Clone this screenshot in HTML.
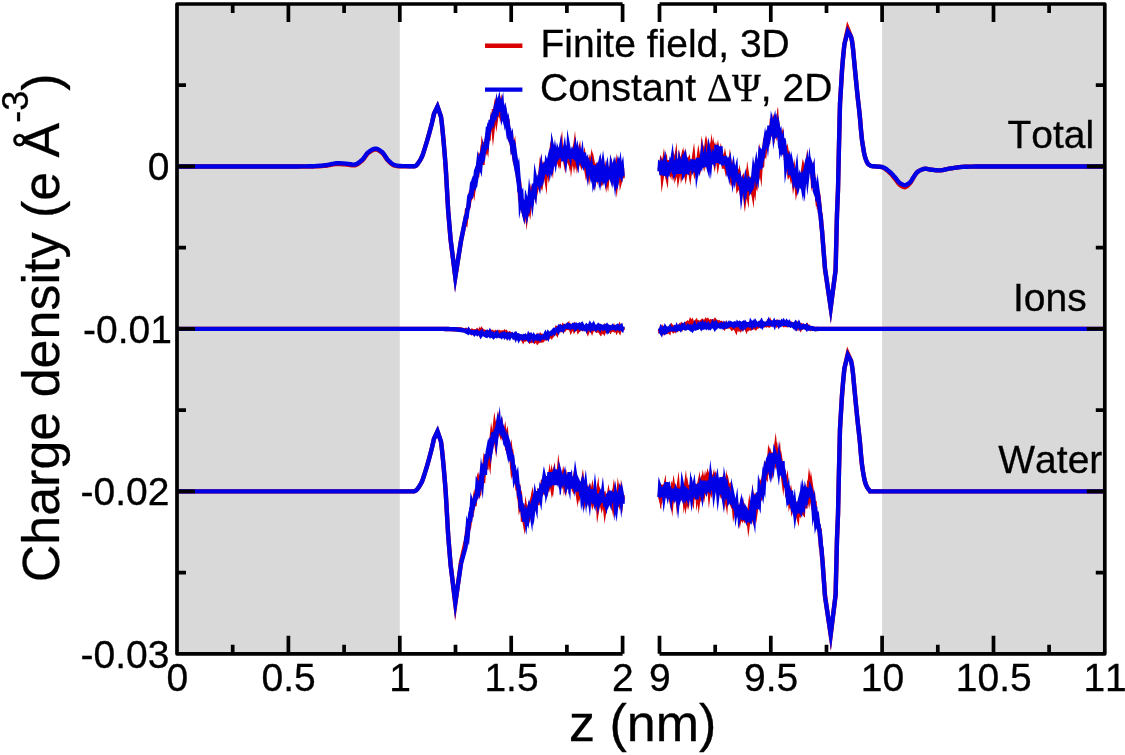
<!DOCTYPE html>
<html><head><meta charset="utf-8"><style>
html,body{margin:0;padding:0;background:#fff;width:1125px;height:755px;overflow:hidden;}
svg{display:block;}
text{font-family:"Liberation Sans",Arial,sans-serif;fill:#000;font-kerning:none;stroke:#000;stroke-width:0.3px;}
</style></head><body>
<svg width="1125" height="755" viewBox="0 0 1125 755">
<rect x="0" y="0" width="1125" height="755" fill="#fff"/>
<rect x="177.0" y="4.0" width="222.8" height="649.8" fill="#d9d9d9"/>
<rect x="882.1" y="4.0" width="222.7" height="649.8" fill="#d9d9d9"/>
<g fill="none" stroke-width="4.4" stroke-linejoin="miter" stroke-miterlimit="10" stroke-linecap="butt">
<path d="M177.0 166.5L178.0 166.5L179.0 166.5L180.0 166.5L181.0 166.5L182.0 166.5L183.0 166.5L184.0 166.5L185.0 166.5L186.0 166.5L187.0 166.5L188.0 166.5L189.0 166.5L190.0 166.5L191.0 166.5L192.0 166.5L193.0 166.5L194.0 166.5L195.0 166.5L196.0 166.5L197.0 166.5L198.0 166.5L199.0 166.5L200.0 166.5L201.0 166.5L202.0 166.5L203.0 166.5L204.0 166.5L205.0 166.5L206.0 166.5L207.0 166.5L208.0 166.5L209.0 166.5L210.0 166.5L211.0 166.5L212.0 166.5L213.0 166.5L214.0 166.5L215.0 166.5L216.0 166.5L217.0 166.5L218.0 166.5L219.0 166.5L220.0 166.5L221.0 166.5L222.0 166.5L223.0 166.5L224.0 166.5L225.0 166.5L226.0 166.5L227.0 166.5L228.0 166.5L229.0 166.5L230.0 166.5L231.0 166.5L232.0 166.5L233.0 166.5L234.0 166.5L235.0 166.5L236.0 166.5L237.0 166.5L238.0 166.5L239.0 166.5L240.0 166.5L241.0 166.5L242.0 166.5L243.0 166.5L244.0 166.5L245.0 166.5L246.0 166.5L247.0 166.5L248.0 166.5L249.0 166.5L250.0 166.5L251.0 166.5L252.0 166.5L253.0 166.5L254.0 166.5L255.0 166.5L256.0 166.5L257.0 166.5L258.0 166.5L259.0 166.5L260.0 166.5L261.0 166.5L262.0 166.5L263.0 166.5L264.0 166.5L265.0 166.5L266.0 166.5L267.0 166.5L268.0 166.5L269.0 166.5L270.0 166.5L271.0 166.5L272.0 166.5L273.0 166.5L274.0 166.5L275.0 166.5L276.0 166.5L277.0 166.5L278.0 166.5L279.0 166.5L280.0 166.5L281.0 166.5L282.0 166.5L283.0 166.5L284.0 166.5L285.0 166.5L286.0 166.5L287.0 166.5L288.0 166.5L289.0 166.5L290.0 166.5L291.0 166.5L292.0 166.5L293.0 166.5L294.0 166.5L295.0 166.5L296.0 166.5L297.0 166.5L298.0 166.5L299.0 166.5L300.0 166.4L301.0 166.5L302.0 166.5L303.0 166.5L304.0 166.5L305.0 166.5L306.0 166.5L307.0 166.5L308.0 166.5L309.0 166.5L310.0 166.5L311.0 166.5L312.0 166.5L313.0 166.5L314.0 166.4L315.0 166.4L316.0 166.4L317.0 166.3L318.0 166.3L319.0 166.2L320.0 166.2L321.0 166.1L322.0 166.0L323.0 165.9L324.0 165.9L325.0 165.8L326.0 165.7L327.0 165.6L328.0 165.4L329.0 165.2L330.0 165.0L331.0 164.8L332.0 164.6L333.0 164.4L334.0 164.3L335.0 164.1L336.0 164.0L337.0 164.0L338.0 164.0L339.0 164.0L340.0 164.0L341.0 164.1L342.0 164.2L343.0 164.2L344.0 164.3L345.0 164.4L346.0 164.5L347.0 164.6L348.0 164.7L349.0 164.8L350.0 165.0L351.0 165.1L352.0 165.3L353.0 165.4L354.0 165.4L355.0 165.3L356.0 165.0L357.0 164.5L358.0 163.9L359.0 163.2L360.0 162.4L361.0 161.6L362.0 160.8L363.0 159.8L364.0 158.5L365.0 157.0L366.0 155.6L367.0 154.3L368.0 153.3L369.0 152.6L370.0 151.8L371.0 151.1L372.0 150.5L373.0 150.0L374.0 149.6L375.0 149.4L376.0 149.4L377.0 149.7L378.0 150.1L379.0 150.6L380.0 151.3L381.0 152.0L382.0 152.8L383.0 153.7L384.0 155.0L385.0 156.5L386.0 158.1L387.0 159.5L388.0 160.6L389.0 161.6L390.0 162.6L391.0 163.5L392.0 164.3L393.0 164.9L394.0 165.3L395.0 165.6L396.0 165.9L397.0 166.1L398.0 166.2L399.0 166.4L400.0 166.4L401.0 166.4L402.0 166.4L403.0 166.4L404.0 166.4L405.0 166.4L406.0 166.4L407.0 166.4L408.0 166.4L409.0 166.4L410.0 166.4L411.0 166.4L412.0 166.4L413.0 166.3L414.0 166.3L415.0 166.2L416.0 165.7L417.0 164.7L418.0 163.5L419.0 161.9L420.0 160.3L421.0 158.6L422.0 156.6L423.0 153.9L424.0 150.9L425.0 147.7L426.0 144.4L427.0 141.2L428.0 137.7L429.0 134.1L430.0 130.4L431.0 126.6L432.0 122.7L433.0 118.3L434.0 113.8L437.5 106.5L441.0 116.8L442.0 125.0L443.0 135.0L444.0 146.3L445.0 158.1L445.8 169.2L448.2 211.2L450.6 239.9L455.3 276.9L461.0 241.1" stroke="#d80000" stroke-miterlimit="20"/>
<path d="M461.0 241.1L465.6 218.8L466.0 219.7L466.5 215.2L467.0 210.0L467.5 209.4L468.0 208.4L468.5 206.5L469.0 203.1L469.5 200.3L470.0 198.7L470.5 195.0L471.0 195.4L471.5 191.2L472.0 189.5L472.5 188.1L473.0 183.0L473.5 182.0L474.0 185.3L474.5 181.2L475.0 178.4L475.5 178.3L476.0 175.0L476.5 175.2L477.0 171.6L477.5 172.2L478.0 166.5L478.5 171.5L479.0 165.9L479.5 161.9L480.0 163.5L480.5 161.7L481.0 161.4L481.5 156.8L482.0 158.9L482.5 164.9L483.0 151.8L483.5 154.0L484.0 150.8L484.5 150.2L485.0 143.6L485.5 143.2L486.0 145.1L486.5 141.8L487.0 143.8L487.5 136.0L488.0 136.1L488.5 140.7L489.0 129.7L489.5 127.4L490.0 127.7L490.5 125.9L491.0 126.5L491.5 123.2L492.0 119.6L492.5 120.7L493.0 125.5L493.5 120.8L494.0 109.2L494.5 114.6L495.0 111.4L495.5 114.0L496.0 110.7L496.5 115.0L497.0 111.4L497.5 110.4L498.0 107.9L498.5 106.8L499.0 107.4L499.5 109.6L500.0 107.8L500.5 105.9L501.0 110.7L501.5 108.7L502.0 109.1L502.5 108.5L503.0 110.4L503.5 111.6L504.0 107.5L504.5 118.7L505.0 119.0L505.5 118.5L506.0 123.2L506.5 123.2L507.0 124.8L507.5 119.3L508.0 126.9L508.5 130.8L509.0 135.5L509.5 138.2L510.0 139.3L510.5 134.9L511.0 134.5L511.5 143.8L512.0 144.7L512.5 149.5L513.0 149.0L513.5 152.3L514.0 150.2L514.5 157.7L515.0 157.9L515.5 162.5L516.0 165.4L516.5 166.6L517.0 170.6L517.5 172.7L518.0 177.8L518.5 180.4L519.0 181.3L519.5 185.7L520.0 196.4L520.5 196.0L521.0 202.2L521.5 203.2L522.0 203.2L522.5 205.0L523.0 209.2L523.5 211.2L524.0 213.1L524.5 208.6L525.0 210.3L525.5 211.1L526.0 214.8L526.5 203.5L527.0 209.8L527.5 206.1L528.0 207.5L528.5 204.1L529.0 205.3L529.5 207.3L530.0 202.9L530.5 201.8L531.0 200.3L531.5 196.0L532.0 198.1L532.5 194.7L533.0 191.8L533.5 192.6L534.0 190.9L534.5 192.3L535.0 189.1L535.5 186.6L536.0 190.7L536.5 188.3L537.0 187.9L537.5 185.0L538.0 181.9L538.5 180.0L539.0 179.2L539.5 181.4L540.0 178.1L540.5 172.8L541.0 175.6L541.5 170.9L542.0 174.2L542.5 169.5L543.0 168.4L543.5 171.3L544.0 169.9L544.5 164.8L545.0 170.5L545.5 173.6L546.0 162.8L546.5 171.0L547.0 163.3L547.5 163.0L548.0 163.1L548.5 158.8L549.0 165.6L549.5 162.6L550.0 158.5L550.5 159.1L551.0 155.0L551.5 157.6L552.0 160.5L552.5 152.7L553.0 155.7L553.5 156.9L554.0 159.0L554.5 159.5L555.0 154.2L555.5 153.2L556.0 156.3L556.5 153.8L557.0 153.8L557.5 157.5L558.0 159.0L558.5 154.8L559.0 153.4L559.5 155.3L560.0 148.3L560.5 153.4L561.0 150.4L561.5 160.0L562.0 155.3L562.5 153.6L563.0 152.6L563.5 146.1L564.0 155.1L564.5 157.7L565.0 151.1L565.5 155.1L566.0 155.2L566.5 148.9L567.0 155.9L567.5 157.2L568.0 154.1L568.5 153.4L569.0 155.9L569.5 149.5L570.0 154.3L570.5 157.1L571.0 150.9L571.5 157.3L572.0 153.6L572.5 149.1L573.0 154.8L573.5 152.6L574.0 156.5L574.5 152.5L575.0 159.0L575.5 154.2L576.0 157.5L576.5 155.1L577.0 156.1L577.5 160.5L578.0 158.1L578.5 156.6L579.0 154.5L579.5 161.6L580.0 160.8L580.5 158.3L581.0 160.3L581.5 157.3L582.0 157.8L582.5 158.9L583.0 162.7L583.5 163.1L584.0 160.7L584.5 165.5L585.0 166.2L585.5 165.0L586.0 168.0L586.5 164.8L587.0 165.8L587.5 168.0L588.0 167.0L588.5 169.8L589.0 164.5L589.5 172.4L590.0 166.6L590.5 168.6L591.0 165.6L591.5 171.5L592.0 173.7L592.5 173.5L593.0 173.2L593.5 166.8L594.0 169.3L594.5 170.6L595.0 169.6L595.5 175.6L596.0 173.3L596.5 172.9L597.0 174.6L597.5 170.8L598.0 171.1L598.5 171.3L599.0 175.3L599.5 174.9L600.0 175.6L600.5 177.0L601.0 170.2L601.5 172.4L602.0 174.3L602.5 170.1L603.0 172.3L603.5 176.6L604.0 176.7L604.5 176.6L605.0 173.6L605.5 172.8L606.0 176.4L606.5 172.2L607.0 174.2L607.5 176.9L608.0 172.1L608.5 171.3L609.0 173.0L609.5 174.7L610.0 174.4L610.5 173.4L611.0 174.6L611.5 168.5L612.0 170.6L612.5 173.5L613.0 170.4L613.5 169.3L614.0 169.7L614.5 170.5L615.0 172.6L615.5 170.3L616.0 173.9L616.5 178.0L617.0 172.9L617.5 176.9L618.0 174.2L618.5 170.3L619.0 172.8L619.5 170.8L620.0 175.8L620.5 170.4L621.0 177.4L621.5 175.4L622.0 168.2L622.5 176.2L622.6 178.4" stroke="#d80000"/>
<path d="M177.0 328.9L178.0 328.9L179.0 328.9L180.0 328.9L181.0 328.9L182.0 328.9L183.0 328.9L184.0 328.9L185.0 328.9L186.0 328.9L187.0 328.9L188.0 328.9L189.0 328.9L190.0 328.9L191.0 328.9L192.0 328.9L193.0 328.9L194.0 328.9L195.0 328.9L196.0 328.9L197.0 328.9L198.0 328.9L199.0 328.9L200.0 328.9L201.0 328.9L202.0 328.9L203.0 328.9L204.0 328.9L205.0 328.9L206.0 328.9L207.0 328.9L208.0 328.9L209.0 328.9L210.0 328.9L211.0 328.9L212.0 328.9L213.0 328.9L214.0 328.9L215.0 328.9L216.0 328.9L217.0 328.9L218.0 328.9L219.0 328.9L220.0 328.9L221.0 328.9L222.0 328.9L223.0 328.9L224.0 328.9L225.0 328.9L226.0 328.9L227.0 328.9L228.0 328.9L229.0 328.9L230.0 328.9L231.0 328.9L232.0 328.9L233.0 328.9L234.0 328.9L235.0 328.9L236.0 328.9L237.0 328.9L238.0 328.9L239.0 328.9L240.0 328.9L241.0 328.9L242.0 328.9L243.0 328.9L244.0 328.9L245.0 328.9L246.0 328.9L247.0 328.9L248.0 328.9L249.0 328.9L250.0 328.9L251.0 328.9L252.0 328.9L253.0 328.9L254.0 328.9L255.0 328.9L256.0 328.9L257.0 328.9L258.0 328.9L259.0 328.9L260.0 328.9L261.0 328.9L262.0 328.9L263.0 328.9L264.0 328.9L265.0 328.9L266.0 328.9L267.0 328.9L268.0 328.9L269.0 328.9L270.0 328.9L271.0 328.9L272.0 328.9L273.0 328.9L274.0 328.9L275.0 328.9L276.0 328.9L277.0 328.9L278.0 328.9L279.0 328.9L280.0 328.9L281.0 328.9L282.0 328.9L283.0 328.9L284.0 328.9L285.0 328.9L286.0 328.9L287.0 328.9L288.0 328.9L289.0 328.9L290.0 328.9L291.0 328.9L292.0 328.9L293.0 328.9L294.0 328.9L295.0 328.9L296.0 328.9L297.0 328.9L298.0 328.9L299.0 328.9L300.0 328.9L301.0 328.9L302.0 328.9L303.0 328.9L304.0 328.9L305.0 328.9L306.0 328.9L307.0 328.9L308.0 328.9L309.0 328.9L310.0 328.9L311.0 328.9L312.0 328.9L313.0 328.9L314.0 328.9L315.0 328.9L316.0 328.9L317.0 328.9L318.0 328.9L319.0 328.9L320.0 328.9L321.0 328.9L322.0 328.9L323.0 328.9L324.0 328.9L325.0 328.9L326.0 328.9L327.0 328.9L328.0 328.9L329.0 328.9L330.0 328.9L331.0 328.9L332.0 328.9L333.0 328.9L334.0 328.9L335.0 328.9L336.0 328.9L337.0 328.9L338.0 328.9L339.0 328.9L340.0 328.9L341.0 328.9L342.0 328.9L343.0 328.9L344.0 328.9L345.0 328.9L346.0 328.9L347.0 328.9L348.0 328.9L349.0 328.9L350.0 328.9L351.0 328.9L352.0 328.9L353.0 328.9L354.0 328.9L355.0 328.9L356.0 328.9L357.0 328.9L358.0 328.9L359.0 328.9L360.0 328.9L361.0 328.9L362.0 328.9L363.0 328.9L364.0 328.9L365.0 328.9L366.0 328.9L367.0 328.9L368.0 328.9L369.0 328.9L370.0 328.9L371.0 328.9L372.0 328.9L373.0 328.9L374.0 328.9L375.0 328.9L376.0 328.9L377.0 328.9L378.0 328.9L379.0 328.9L380.0 328.9L381.0 328.9L382.0 328.9L383.0 328.9L384.0 328.9L385.0 328.9L386.0 328.9L387.0 328.9L388.0 328.9L389.0 328.9L390.0 328.9L391.0 328.9L392.0 328.9L393.0 328.9L394.0 328.9L395.0 328.9L396.0 328.9L397.0 328.9L398.0 328.9L399.0 328.9L400.0 328.9L401.0 328.9L402.0 328.9L403.0 328.9L404.0 328.9L405.0 328.9L406.0 328.9L407.0 328.9L408.0 328.9L409.0 328.9L410.0 328.9L411.0 328.9L412.0 328.9L413.0 328.9L414.0 328.9L415.0 328.9L416.0 328.9L417.0 328.9L418.0 328.9L419.0 328.9L420.0 328.9L421.0 328.9L422.0 328.9L423.0 328.9L424.0 328.9L425.0 328.9L426.0 328.9L427.0 328.9L428.0 328.9L429.0 328.9L430.0 328.9L431.0 328.9L432.0 328.9L433.0 328.9L434.0 328.9L437.5 328.9L441.0 328.9L442.0 328.9L443.0 328.9L444.0 328.9L445.0 329.0L445.8 329.0L448.2 329.0L450.6 329.1L455.3 329.3L461.0 329.5L465.6 330.8L466.0 330.4L466.5 330.9L467.0 330.7L467.5 330.9L468.0 331.1L468.5 331.1L469.0 330.9L469.5 331.6L470.0 331.4L470.5 331.4L471.0 331.7L471.5 331.3L472.0 332.2L472.5 331.7L473.0 331.8L473.5 331.9L474.0 331.4L474.5 331.3L475.0 331.9L475.5 332.0L476.0 332.4L476.5 332.1L477.0 331.4L477.5 332.2L478.0 332.4L478.5 332.5L479.0 332.2L479.5 331.4L480.0 332.6L480.5 331.7L481.0 332.4L481.5 331.4L482.0 332.6L482.5 331.9L483.0 332.9L483.5 333.3L484.0 333.0L484.5 331.8L485.0 332.0L485.5 332.0L486.0 332.9L486.5 332.7L487.0 332.7L487.5 332.8L488.0 332.9L488.5 333.0L489.0 333.6L489.5 332.7L490.0 332.9L490.5 331.8L491.0 332.1L491.5 332.4L492.0 332.2L492.5 333.0L493.0 333.4L493.5 332.6L494.0 332.6L494.5 332.6L495.0 333.0L495.5 332.6L496.0 333.2L496.5 333.1L497.0 333.2L497.5 333.4L498.0 333.0L498.5 333.1L499.0 334.0L499.5 333.0L500.0 333.5L500.5 333.1L501.0 332.8L501.5 332.8L502.0 332.6L502.5 333.1L503.0 332.7L503.5 332.8L504.0 333.8L504.5 333.0L505.0 333.8L505.5 333.4L506.0 333.9L506.5 333.1L507.0 333.7L507.5 335.3L508.0 334.4L508.5 334.6L509.0 334.3L509.5 334.8L510.0 333.8L510.5 334.1L511.0 335.0L511.5 335.4L512.0 334.9L512.5 335.2L513.0 335.2L513.5 335.5L514.0 335.1L514.5 335.1L515.0 336.1L515.5 335.2L516.0 335.8L516.5 336.2L517.0 336.1L517.5 337.0L518.0 336.7L518.5 337.1L519.0 336.6L519.5 336.9L520.0 337.8L520.5 337.9L521.0 337.5L521.5 338.1L522.0 338.1L522.5 338.2L523.0 339.2L523.5 338.0L524.0 338.6L524.5 338.7L525.0 338.4L525.5 337.8L526.0 339.1L526.5 338.9L527.0 338.8L527.5 338.9L528.0 338.9L528.5 338.4L529.0 339.2L529.5 337.9L530.0 339.1L530.5 338.2L531.0 339.0L531.5 339.7L532.0 339.0L532.5 338.9L533.0 339.6L533.5 339.1L534.0 339.0L534.5 339.0L535.0 340.3L535.5 339.7L536.0 339.6L536.5 338.5L537.0 339.7L537.5 338.4L538.0 339.6L538.5 338.6L539.0 340.7L539.5 338.2L540.0 340.2L540.5 339.9L541.0 338.1L541.5 339.2L542.0 340.3L542.5 340.1L543.0 338.1L543.5 338.8L544.0 338.2L544.5 338.2L545.0 338.2L545.5 339.7L546.0 338.2L546.5 337.6L547.0 337.2L547.5 337.5L548.0 337.2L548.5 335.7L549.0 337.1L549.5 334.9L550.0 335.2L550.5 335.4L551.0 335.9L551.5 334.2L552.0 334.2L552.5 334.6L553.0 333.7L553.5 333.7L554.0 333.3L554.5 332.4L555.0 332.3L555.5 332.1L556.0 331.1L556.5 331.9L557.0 329.0L557.5 329.4L558.0 330.8L558.5 329.8L559.0 328.7L559.5 329.2L560.0 329.4L560.5 328.1L561.0 328.9L561.5 328.1L562.0 328.0L562.5 327.8L563.0 328.6L563.5 326.8L564.0 327.3L564.5 327.9L565.0 326.5L565.5 326.2L566.0 327.7L566.5 327.3L567.0 327.2L567.5 327.5L568.0 326.7L568.5 329.7L569.0 326.8L569.5 327.3L570.0 326.6L570.5 327.4L571.0 329.0L571.5 327.9L572.0 328.4L572.5 327.7L573.0 329.5L573.5 328.3L574.0 327.3L574.5 328.9L575.0 328.1L575.5 328.9L576.0 328.6L576.5 328.7L577.0 328.6L577.5 327.8L578.0 327.4L578.5 329.3L579.0 328.5L579.5 328.9L580.0 328.3L580.5 327.1L581.0 327.7L581.5 329.8L582.0 328.2L582.5 328.5L583.0 327.7L583.5 328.4L584.0 328.6L584.5 328.7L585.0 328.8L585.5 328.4L586.0 328.5L586.5 328.9L587.0 329.2L587.5 328.9L588.0 330.4L588.5 329.2L589.0 329.2L589.5 328.6L590.0 329.9L590.5 328.3L591.0 327.9L591.5 328.4L592.0 329.7L592.5 328.3L593.0 330.3L593.5 329.2L594.0 328.1L594.5 329.1L595.0 330.7L595.5 328.7L596.0 328.3L596.5 329.8L597.0 330.4L597.5 330.2L598.0 329.1L598.5 329.6L599.0 329.7L599.5 330.4L600.0 331.2L600.5 329.4L601.0 330.5L601.5 329.2L602.0 329.9L602.5 328.7L603.0 328.8L603.5 329.8L604.0 328.7L604.5 330.2L605.0 329.0L605.5 329.5L606.0 329.4L606.5 329.2L607.0 329.5L607.5 330.3L608.0 332.0L608.5 328.5L609.0 329.7L609.5 329.3L610.0 328.7L610.5 329.7L611.0 328.7L611.5 329.3L612.0 330.4L612.5 327.7L613.0 329.6L613.5 329.8L614.0 328.6L614.5 329.8L615.0 329.7L615.5 329.1L616.0 330.4L616.5 328.2L617.0 329.9L617.5 329.1L618.0 328.4L618.5 329.1L619.0 329.0L619.5 329.9L620.0 328.0L620.5 329.1L621.0 328.8L621.5 330.5L622.0 328.2L622.5 330.0L622.6 327.6" stroke="#d80000" stroke-miterlimit="3"/>
<path d="M177.0 491.4L178.0 491.4L179.0 491.4L180.0 491.4L181.0 491.4L182.0 491.4L183.0 491.4L184.0 491.4L185.0 491.4L186.0 491.4L187.0 491.4L188.0 491.4L189.0 491.4L190.0 491.4L191.0 491.4L192.0 491.4L193.0 491.4L194.0 491.4L195.0 491.4L196.0 491.4L197.0 491.4L198.0 491.4L199.0 491.4L200.0 491.4L201.0 491.4L202.0 491.4L203.0 491.4L204.0 491.4L205.0 491.4L206.0 491.4L207.0 491.4L208.0 491.4L209.0 491.4L210.0 491.4L211.0 491.4L212.0 491.4L213.0 491.4L214.0 491.4L215.0 491.4L216.0 491.4L217.0 491.4L218.0 491.4L219.0 491.4L220.0 491.4L221.0 491.4L222.0 491.4L223.0 491.4L224.0 491.4L225.0 491.4L226.0 491.4L227.0 491.4L228.0 491.4L229.0 491.4L230.0 491.4L231.0 491.4L232.0 491.4L233.0 491.4L234.0 491.4L235.0 491.4L236.0 491.4L237.0 491.4L238.0 491.4L239.0 491.4L240.0 491.4L241.0 491.4L242.0 491.4L243.0 491.4L244.0 491.4L245.0 491.4L246.0 491.4L247.0 491.4L248.0 491.4L249.0 491.4L250.0 491.4L251.0 491.4L252.0 491.4L253.0 491.4L254.0 491.4L255.0 491.4L256.0 491.4L257.0 491.4L258.0 491.4L259.0 491.4L260.0 491.4L261.0 491.4L262.0 491.4L263.0 491.4L264.0 491.4L265.0 491.4L266.0 491.4L267.0 491.4L268.0 491.4L269.0 491.4L270.0 491.4L271.0 491.4L272.0 491.4L273.0 491.4L274.0 491.4L275.0 491.4L276.0 491.4L277.0 491.4L278.0 491.4L279.0 491.4L280.0 491.4L281.0 491.4L282.0 491.4L283.0 491.4L284.0 491.4L285.0 491.4L286.0 491.4L287.0 491.4L288.0 491.4L289.0 491.4L290.0 491.4L291.0 491.4L292.0 491.4L293.0 491.4L294.0 491.4L295.0 491.4L296.0 491.4L297.0 491.4L298.0 491.4L299.0 491.4L300.0 491.4L301.0 491.4L302.0 491.4L303.0 491.4L304.0 491.4L305.0 491.4L306.0 491.4L307.0 491.4L308.0 491.4L309.0 491.4L310.0 491.4L311.0 491.4L312.0 491.4L313.0 491.4L314.0 491.4L315.0 491.4L316.0 491.4L317.0 491.4L318.0 491.4L319.0 491.4L320.0 491.4L321.0 491.4L322.0 491.4L323.0 491.4L324.0 491.4L325.0 491.4L326.0 491.4L327.0 491.4L328.0 491.4L329.0 491.4L330.0 491.4L331.0 491.4L332.0 491.4L333.0 491.4L334.0 491.4L335.0 491.4L336.0 491.4L337.0 491.4L338.0 491.4L339.0 491.4L340.0 491.4L341.0 491.4L342.0 491.4L343.0 491.4L344.0 491.4L345.0 491.4L346.0 491.4L347.0 491.4L348.0 491.4L349.0 491.4L350.0 491.4L351.0 491.4L352.0 491.4L353.0 491.4L354.0 491.4L355.0 491.4L356.0 491.4L357.0 491.4L358.0 491.4L359.0 491.4L360.0 491.4L361.0 491.4L362.0 491.4L363.0 491.4L364.0 491.4L365.0 491.4L366.0 491.4L367.0 491.4L368.0 491.4L369.0 491.4L370.0 491.4L371.0 491.4L372.0 491.4L373.0 491.4L374.0 491.4L375.0 491.4L376.0 491.4L377.0 491.4L378.0 491.4L379.0 491.4L380.0 491.4L381.0 491.4L382.0 491.4L383.0 491.4L384.0 491.4L385.0 491.4L386.0 491.4L387.0 491.4L388.0 491.4L389.0 491.4L390.0 491.4L391.0 491.4L392.0 491.4L393.0 491.4L394.0 491.4L395.0 491.4L396.0 491.4L397.0 491.4L398.0 491.4L399.0 491.4L400.0 491.4L401.0 491.4L402.0 491.4L403.0 491.4L404.0 491.4L405.0 491.4L406.0 491.4L407.0 491.4L408.0 491.4L409.0 491.4L410.0 491.4L411.0 491.4L412.0 491.4L413.0 491.4L414.0 491.4L415.0 491.0L416.0 490.5L417.0 489.6L418.0 488.3L419.0 486.8L420.0 485.2L421.0 483.5L422.0 481.5L423.0 478.8L424.0 475.8L425.0 472.6L426.0 469.3L427.0 466.1L428.0 462.6L429.0 459.0L430.0 455.3L431.0 451.5L432.0 447.6L433.0 443.2L434.0 438.7L437.5 431.4L441.0 441.7L442.0 449.8L443.0 459.9L444.0 471.1L445.0 482.9L445.8 494.1L448.2 535.9L450.6 564.6L455.3 603.7L461.0 562.1" stroke="#d80000" stroke-miterlimit="20"/>
<path d="M461.0 562.1L465.6 541.9L466.0 541.4L466.5 537.0L467.0 537.7L467.5 530.4L468.0 530.7L468.5 528.5L469.0 527.5L469.5 523.9L470.0 520.0L470.5 517.2L471.0 514.5L471.5 514.6L472.0 508.9L472.5 509.3L473.0 506.2L473.5 505.2L474.0 502.4L474.5 506.1L475.0 498.4L475.5 498.9L476.0 497.5L476.5 496.7L477.0 494.8L477.5 493.1L478.0 492.8L478.5 485.6L479.0 487.5L479.5 483.1L480.0 484.9L480.5 480.1L481.0 479.0L481.5 479.5L482.0 481.3L482.5 477.8L483.0 475.5L483.5 476.4L484.0 469.2L484.5 464.7L485.0 466.7L485.5 465.1L486.0 466.7L486.5 466.9L487.0 456.4L487.5 463.6L488.0 459.3L488.5 455.5L489.0 452.4L489.5 455.6L490.0 448.0L490.5 445.0L491.0 445.0L491.5 439.9L492.0 443.3L492.5 440.7L493.0 440.7L493.5 439.6L494.0 434.9L494.5 439.8L495.0 432.9L495.5 436.6L496.0 429.3L496.5 433.4L497.0 429.5L497.5 431.0L498.0 428.6L498.5 424.2L499.0 426.6L499.5 429.4L500.0 430.9L500.5 425.9L501.0 424.7L501.5 428.6L502.0 431.1L502.5 431.0L503.0 431.7L503.5 437.0L504.0 438.5L504.5 439.1L505.0 436.0L505.5 439.8L506.0 440.3L506.5 438.5L507.0 445.9L507.5 445.4L508.0 445.5L508.5 452.1L509.0 452.2L509.5 454.3L510.0 457.1L510.5 457.8L511.0 454.7L511.5 459.0L512.0 464.6L512.5 462.1L513.0 466.2L513.5 469.1L514.0 473.8L514.5 475.5L515.0 476.5L515.5 475.8L516.0 480.8L516.5 482.1L517.0 482.6L517.5 489.0L518.0 489.3L518.5 488.8L519.0 497.0L519.5 497.0L520.0 503.4L520.5 501.7L521.0 508.4L521.5 508.1L522.0 510.0L522.5 509.5L523.0 521.7L523.5 517.1L524.0 518.9L524.5 521.5L525.0 518.1L525.5 519.3L526.0 513.8L526.5 517.1L527.0 514.7L527.5 516.3L528.0 514.7L528.5 509.9L529.0 508.1L529.5 509.6L530.0 513.5L530.5 511.9L531.0 511.0L531.5 503.7L532.0 501.1L532.5 505.7L533.0 505.6L533.5 504.1L534.0 505.9L534.5 503.7L535.0 500.2L535.5 500.2L536.0 502.1L536.5 501.0L537.0 499.7L537.5 505.0L538.0 497.3L538.5 497.4L539.0 493.4L539.5 494.1L540.0 495.5L540.5 494.7L541.0 491.8L541.5 492.3L542.0 490.5L542.5 484.4L543.0 479.8L543.5 494.2L544.0 489.5L544.5 486.4L545.0 481.3L545.5 482.0L546.0 488.6L546.5 476.7L547.0 482.9L547.5 485.6L548.0 483.1L548.5 484.3L549.0 481.3L549.5 487.8L550.0 477.9L550.5 476.5L551.0 480.6L551.5 483.5L552.0 479.1L552.5 481.9L553.0 477.3L553.5 475.4L554.0 482.5L554.5 482.9L555.0 482.9L555.5 477.5L556.0 475.6L556.5 475.6L557.0 478.3L557.5 480.6L558.0 480.5L558.5 475.1L559.0 479.6L559.5 479.2L560.0 479.4L560.5 479.2L561.0 478.8L561.5 481.2L562.0 480.0L562.5 480.5L563.0 478.0L563.5 481.2L564.0 479.9L564.5 474.4L565.0 481.9L565.5 479.9L566.0 483.3L566.5 480.4L567.0 480.6L567.5 481.6L568.0 481.1L568.5 479.9L569.0 476.3L569.5 486.6L570.0 477.2L570.5 480.8L571.0 483.7L571.5 483.1L572.0 483.8L572.5 484.6L573.0 486.1L573.5 483.6L574.0 491.1L574.5 480.3L575.0 484.0L575.5 482.6L576.0 482.3L576.5 484.8L577.0 488.3L577.5 482.4L578.0 482.7L578.5 486.9L579.0 486.7L579.5 491.0L580.0 488.8L580.5 486.9L581.0 485.8L581.5 487.8L582.0 487.2L582.5 484.3L583.0 488.7L583.5 488.7L584.0 489.1L584.5 489.1L585.0 495.6L585.5 493.3L586.0 494.5L586.5 490.7L587.0 490.0L587.5 492.6L588.0 494.5L588.5 493.3L589.0 494.2L589.5 497.7L590.0 496.2L590.5 492.9L591.0 494.8L591.5 494.5L592.0 497.2L592.5 493.7L593.0 496.8L593.5 499.6L594.0 498.1L594.5 495.7L595.0 496.9L595.5 499.2L596.0 500.5L596.5 501.7L597.0 499.2L597.5 496.1L598.0 504.0L598.5 500.9L599.0 501.3L599.5 501.1L600.0 497.4L600.5 499.4L601.0 501.0L601.5 503.1L602.0 500.4L602.5 491.4L603.0 499.4L603.5 501.0L604.0 503.6L604.5 501.9L605.0 506.8L605.5 503.7L606.0 503.4L606.5 502.2L607.0 495.6L607.5 501.8L608.0 501.1L608.5 497.9L609.0 501.0L609.5 500.5L610.0 498.0L610.5 499.0L611.0 498.6L611.5 500.0L612.0 498.2L612.5 500.9L613.0 494.0L613.5 498.6L614.0 494.7L614.5 498.1L615.0 501.0L615.5 499.6L616.0 499.3L616.5 499.8L617.0 504.1L617.5 496.6L618.0 502.3L618.5 495.6L619.0 498.6L619.5 500.5L620.0 497.7L620.5 500.8L621.0 502.3L621.5 497.0L622.0 500.3L622.5 499.5L622.6 495.2" stroke="#d80000"/>
<path d="M659.5 169.8L660.0 168.3L660.5 169.7L661.0 166.4L661.5 162.6L662.0 163.7L662.5 172.1L663.0 168.8L663.5 165.5L664.0 170.6L664.5 165.7L665.0 165.6L665.5 164.1L666.0 171.2L666.5 173.4L667.0 164.7L667.5 168.3L668.0 170.3L668.5 173.7L669.0 160.2L669.5 167.7L670.0 169.2L670.5 162.8L671.0 168.4L671.5 167.7L672.0 169.3L672.5 165.3L673.0 168.3L673.5 165.2L674.0 168.8L674.5 167.5L675.0 165.8L675.5 162.7L676.0 171.8L676.5 170.2L677.0 169.5L677.5 164.9L678.0 165.8L678.5 171.8L679.0 169.0L679.5 164.2L680.0 166.9L680.5 167.1L681.0 166.1L681.5 163.8L682.0 170.3L682.5 168.3L683.0 165.9L683.5 161.8L684.0 164.7L684.5 166.4L685.0 168.9L685.5 165.2L686.0 169.5L686.5 166.6L687.0 163.9L687.5 157.8L688.0 162.5L688.5 161.5L689.0 165.5L689.5 166.8L690.0 169.9L690.5 165.6L691.0 162.1L691.5 172.5L692.0 166.3L692.5 164.5L693.0 164.3L693.5 161.0L694.0 166.7L694.5 165.8L695.0 169.3L695.5 167.6L696.0 166.8L696.5 167.7L697.0 163.0L697.5 162.3L698.0 163.3L698.5 159.5L699.0 162.6L699.5 161.8L700.0 164.6L700.5 162.3L701.0 156.4L701.5 161.9L702.0 165.7L702.5 155.7L703.0 158.6L703.5 160.5L704.0 156.2L704.5 158.1L705.0 159.5L705.5 155.0L706.0 159.5L706.5 159.5L707.0 154.1L707.5 157.6L708.0 160.5L708.5 156.4L709.0 158.0L709.5 158.4L710.0 155.6L710.5 159.0L711.0 157.1L711.5 152.7L712.0 157.1L712.5 158.0L713.0 157.6L713.5 153.1L714.0 156.3L714.5 159.0L715.0 155.5L715.5 158.3L716.0 158.6L716.5 154.6L717.0 156.9L717.5 154.2L718.0 158.6L718.5 155.4L719.0 154.4L719.5 156.4L720.0 156.7L720.5 158.6L721.0 159.3L721.5 154.8L722.0 156.7L722.5 160.2L723.0 161.1L723.5 160.3L724.0 168.6L724.5 164.5L725.0 161.3L725.5 164.3L726.0 166.7L726.5 164.4L727.0 158.5L727.5 164.7L728.0 165.2L728.5 172.2L729.0 160.7L729.5 171.7L730.0 167.1L730.5 171.1L731.0 168.1L731.5 170.3L732.0 174.1L732.5 171.7L733.0 175.5L733.5 172.9L734.0 172.7L734.5 174.1L735.0 174.0L735.5 176.1L736.0 181.5L736.5 174.5L737.0 173.9L737.5 179.9L738.0 186.0L738.5 185.0L739.0 186.7L739.5 187.4L740.0 182.1L740.5 185.4L741.0 177.5L741.5 184.4L742.0 188.7L742.5 182.2L743.0 180.7L743.5 183.0L744.0 187.7L744.5 190.6L745.0 195.0L745.5 191.4L746.0 182.2L746.5 179.6L747.0 187.2L747.5 190.0L748.0 181.6L748.5 184.9L749.0 185.0L749.5 186.4L750.0 185.6L750.5 187.5L751.0 188.7L751.5 184.9L752.0 186.2L752.5 189.0L753.0 178.5L753.5 177.2L754.0 180.8L754.5 183.7L755.0 177.1L755.5 178.8L756.0 173.2L756.5 175.9L757.0 170.0L757.5 172.9L758.0 170.8L758.5 169.5L759.0 171.4L759.5 169.1L760.0 162.5L760.5 165.8L761.0 156.3L761.5 163.3L762.0 167.3L762.5 158.7L763.0 156.8L763.5 153.5L764.0 153.9L764.5 147.8L765.0 149.3L765.5 144.4L766.0 142.1L766.5 142.2L767.0 140.2L767.5 133.6L768.0 144.1L768.5 136.6L769.0 129.4L769.5 136.6L770.0 131.8L770.5 131.2L771.0 131.7L771.5 125.8L772.0 118.7L772.5 126.9L773.0 127.7L773.5 130.0L774.0 124.6L774.5 126.3L775.0 128.7L775.5 127.0L776.0 127.8L776.5 130.0L777.0 126.9L777.5 135.6L778.0 128.8L778.5 132.7L779.0 132.5L779.5 132.4L780.0 137.2L780.5 139.7L781.0 142.0L781.5 140.5L782.0 138.8L782.5 144.4L783.0 139.1L783.5 145.5L784.0 148.9L784.5 151.1L785.0 147.8L785.5 148.7L786.0 160.2L786.5 155.3L787.0 153.4L787.5 156.1L788.0 161.3L788.5 166.2L789.0 164.0L789.5 168.9L790.0 167.2L790.5 169.3L791.0 172.2L791.5 169.4L792.0 172.6L792.5 171.7L793.0 172.3L793.5 177.5L794.0 174.3L794.5 178.2L795.0 176.8L795.5 179.8L796.0 179.3L796.5 184.7L797.0 181.9L797.5 182.0L798.0 186.7L798.5 173.2L799.0 178.5L799.5 173.7L800.0 181.8L800.5 183.0L801.0 183.4L801.5 182.1L802.0 178.6L802.5 185.8L803.0 180.7L803.5 178.0L804.0 174.1L804.5 176.9L805.0 172.8L805.5 171.3L806.0 171.7L806.5 170.6L807.0 166.9L807.5 171.7L808.0 165.0L808.5 164.1L809.0 167.4L809.5 166.5L810.0 166.3L810.5 165.5L811.0 167.9L811.5 168.2L812.0 167.6L812.5 175.8L813.0 173.6L813.5 177.6L814.0 182.2L814.5 183.0L815.0 191.9L815.5 184.5L816.0 188.4L816.5 192.2L817.0 196.7L817.5 195.1L818.0 194.8L818.5 202.2L819.0 201.3L819.5 206.3L820.0 212.2L820.5 213.9L821.0 219.0L821.5 225.8L822.0 230.4L822.5 236.9L825.0 269.0" stroke="#d80000"/>
<path d="M825.0 269.0L830.7 307.8L835.6 270.0L837.0 214.0L838.0 189.7L839.0 144.9L840.0 103.9L841.0 87.3L842.0 70.7L843.0 58.3L844.0 48.1L844.5 43.8L847.8 28.7L851.0 36.6L852.0 41.0L853.0 48.6L854.0 59.4L855.0 70.0L856.0 80.3L857.0 90.5L858.0 99.9L859.0 108.5L860.0 118.2L861.0 130.1L862.0 140.0L863.0 146.7L864.0 152.4L865.0 156.9L866.0 160.0L867.0 162.1L868.0 163.8L869.0 164.8L870.0 165.4L871.0 165.9L872.0 166.1L873.0 166.2L874.0 166.3L875.0 166.4L876.0 166.5L877.0 166.5L878.0 166.6L879.0 166.7L880.0 166.7L881.0 167.0L882.0 167.2L883.0 167.6L884.0 168.1L885.0 168.7L886.0 169.5L887.0 170.3L888.0 171.2L889.0 172.1L890.0 173.0L891.0 174.0L892.0 175.1L893.0 176.3L894.0 177.6L895.0 178.8L896.0 180.1L897.0 181.4L898.0 182.8L899.0 184.0L900.0 184.9L901.0 185.6L902.0 186.2L903.0 186.7L904.0 187.0L905.0 187.2L906.0 186.8L907.0 186.2L908.0 185.3L909.0 184.3L910.0 183.3L911.0 182.0L912.0 180.3L913.0 178.4L914.0 176.7L915.0 175.1L916.0 173.6L917.0 172.4L918.0 171.5L919.0 170.9L920.0 170.4L921.0 169.9L922.0 169.5L923.0 169.2L924.0 168.9L925.0 168.8L926.0 168.8L927.0 168.9L928.0 169.1L929.0 169.3L930.0 169.5L931.0 169.7L932.0 169.8L933.0 169.9L934.0 170.0L935.0 170.1L936.0 170.2L937.0 170.3L938.0 170.4L939.0 170.4L940.0 170.4L941.0 170.3L942.0 170.1L943.0 170.0L944.0 169.8L945.0 169.5L946.0 169.3L947.0 169.1L948.0 168.9L949.0 168.7L950.0 168.5L951.0 168.4L952.0 168.2L953.0 168.1L954.0 167.9L955.0 167.8L956.0 167.6L957.0 167.5L958.0 167.4L959.0 167.2L960.0 167.1L961.0 167.0L962.0 166.9L963.0 166.9L964.0 166.8L965.0 166.7L966.0 166.7L967.0 166.7L968.0 166.7L969.0 166.6L970.0 166.6L971.0 166.6L972.0 166.6L973.0 166.6L974.0 166.5L975.0 166.5L976.0 166.5L977.0 166.5L978.0 166.5L979.0 166.5L980.0 166.5L981.0 166.5L982.0 166.5L983.0 166.5L984.0 166.5L985.0 166.5L986.0 166.5L987.0 166.5L988.0 166.5L989.0 166.5L990.0 166.5L991.0 166.5L992.0 166.5L993.0 166.5L994.0 166.5L995.0 166.5L996.0 166.5L997.0 166.5L998.0 166.5L999.0 166.5L1000.0 166.5L1001.0 166.5L1002.0 166.5L1003.0 166.5L1004.0 166.5L1005.0 166.5L1006.0 166.5L1007.0 166.5L1008.0 166.5L1009.0 166.5L1010.0 166.5L1011.0 166.5L1012.0 166.5L1013.0 166.5L1014.0 166.5L1015.0 166.5L1016.0 166.5L1017.0 166.5L1018.0 166.5L1019.0 166.5L1020.0 166.5L1021.0 166.5L1022.0 166.5L1023.0 166.5L1024.0 166.5L1025.0 166.5L1026.0 166.5L1027.0 166.5L1028.0 166.5L1029.0 166.5L1030.0 166.5L1031.0 166.5L1032.0 166.5L1033.0 166.5L1034.0 166.5L1035.0 166.5L1036.0 166.5L1037.0 166.5L1038.0 166.5L1039.0 166.5L1040.0 166.5L1041.0 166.5L1042.0 166.5L1043.0 166.5L1044.0 166.5L1045.0 166.5L1046.0 166.5L1047.0 166.5L1048.0 166.5L1049.0 166.5L1050.0 166.5L1051.0 166.5L1052.0 166.5L1053.0 166.5L1054.0 166.5L1055.0 166.5L1056.0 166.5L1057.0 166.5L1058.0 166.5L1059.0 166.5L1060.0 166.5L1061.0 166.5L1062.0 166.5L1063.0 166.5L1064.0 166.5L1065.0 166.5L1066.0 166.5L1067.0 166.5L1068.0 166.5L1069.0 166.5L1070.0 166.5L1071.0 166.5L1072.0 166.5L1073.0 166.5L1074.0 166.5L1075.0 166.5L1076.0 166.5L1077.0 166.5L1078.0 166.5L1079.0 166.5L1080.0 166.5L1081.0 166.5L1082.0 166.5L1083.0 166.5L1084.0 166.5L1085.0 166.5L1086.0 166.5L1087.0 166.5L1088.0 166.5L1089.0 166.5L1090.0 166.5L1091.0 166.5L1092.0 166.5L1093.0 166.5L1094.0 166.5L1095.0 166.5L1096.0 166.5L1097.0 166.5L1098.0 166.5L1099.0 166.5L1100.0 166.5L1101.0 166.5L1102.0 166.5L1103.0 166.5L1104.0 166.5L1104.8 166.5" stroke="#d80000" stroke-miterlimit="20"/>
<path d="M659.5 332.2L660.0 331.4L660.5 332.7L661.0 330.7L661.5 331.6L662.0 332.0L662.5 330.2L663.0 331.3L663.5 331.2L664.0 330.3L664.5 330.7L665.0 331.5L665.5 330.8L666.0 330.2L666.5 330.2L667.0 330.6L667.5 331.1L668.0 330.6L668.5 330.5L669.0 331.0L669.5 328.5L670.0 328.5L670.5 327.8L671.0 330.0L671.5 327.6L672.0 329.2L672.5 329.7L673.0 327.9L673.5 328.4L674.0 328.6L674.5 329.2L675.0 327.4L675.5 328.7L676.0 328.8L676.5 328.2L677.0 328.0L677.5 328.6L678.0 327.7L678.5 327.3L679.0 326.9L679.5 327.5L680.0 326.6L680.5 327.2L681.0 326.6L681.5 327.2L682.0 325.6L682.5 326.1L683.0 326.1L683.5 326.0L684.0 326.3L684.5 325.6L685.0 325.8L685.5 326.5L686.0 325.5L686.5 323.9L687.0 323.5L687.5 324.8L688.0 323.9L688.5 324.2L689.0 323.7L689.5 324.7L690.0 324.4L690.5 322.7L691.0 323.7L691.5 323.2L692.0 322.4L692.5 323.8L693.0 323.2L693.5 323.6L694.0 325.0L694.5 324.1L695.0 323.9L695.5 322.8L696.0 322.2L696.5 323.9L697.0 322.8L697.5 323.0L698.0 322.6L698.5 323.0L699.0 324.6L699.5 322.6L700.0 322.6L700.5 322.9L701.0 322.9L701.5 321.8L702.0 321.4L702.5 322.2L703.0 322.5L703.5 322.0L704.0 321.8L704.5 321.8L705.0 322.2L705.5 322.4L706.0 321.3L706.5 322.0L707.0 322.6L707.5 322.3L708.0 321.4L708.5 322.1L709.0 322.3L709.5 322.8L710.0 321.1L710.5 322.7L711.0 321.9L711.5 322.3L712.0 322.6L712.5 321.5L713.0 321.5L713.5 322.0L714.0 322.6L714.5 321.7L715.0 321.0L715.5 321.7L716.0 322.6L716.5 323.3L717.0 322.3L717.5 322.6L718.0 322.8L718.5 323.0L719.0 322.6L719.5 323.1L720.0 323.7L720.5 323.8L721.0 323.9L721.5 323.4L722.0 323.8L722.5 323.9L723.0 325.3L723.5 325.7L724.0 325.1L724.5 326.1L725.0 325.0L725.5 325.1L726.0 324.5L726.5 325.7L727.0 325.3L727.5 325.8L728.0 326.2L728.5 325.8L729.0 325.3L729.5 326.1L730.0 326.2L730.5 326.4L731.0 326.9L731.5 326.4L732.0 326.5L732.5 328.0L733.0 327.7L733.5 327.0L734.0 326.5L734.5 327.0L735.0 327.6L735.5 327.9L736.0 329.0L736.5 327.2L737.0 327.4L737.5 327.1L738.0 327.3L738.5 327.0L739.0 326.5L739.5 327.9L740.0 327.3L740.5 328.1L741.0 326.9L741.5 327.4L742.0 327.6L742.5 325.9L743.0 326.3L743.5 327.6L744.0 327.2L744.5 325.9L745.0 326.6L745.5 326.4L746.0 326.7L746.5 328.0L747.0 326.6L747.5 328.3L748.0 326.8L748.5 326.5L749.0 327.9L749.5 327.5L750.0 327.8L750.5 328.1L751.0 327.4L751.5 327.5L752.0 325.6L752.5 326.1L753.0 326.8L753.5 326.5L754.0 326.8L754.5 326.0L755.0 326.9L755.5 327.4L756.0 326.4L756.5 326.5L757.0 326.2L757.5 326.4L758.0 325.9L758.5 325.4L759.0 325.7L759.5 325.6L760.0 324.6L760.5 325.5L761.0 325.3L761.5 325.4L762.0 324.8L762.5 325.4L763.0 325.4L763.5 324.5L764.0 325.1L764.5 325.2L765.0 325.1L765.5 324.1L766.0 324.0L766.5 324.5L767.0 323.8L767.5 325.7L768.0 323.8L768.5 323.8L769.0 324.5L769.5 323.8L770.0 322.7L770.5 323.9L771.0 323.4L771.5 323.6L772.0 323.0L772.5 323.4L773.0 323.7L773.5 323.8L774.0 323.2L774.5 323.4L775.0 323.3L775.5 323.8L776.0 323.6L776.5 323.0L777.0 324.0L777.5 323.3L778.0 323.8L778.5 323.2L779.0 323.8L779.5 323.6L780.0 323.6L780.5 323.9L781.0 323.9L781.5 323.7L782.0 323.7L782.5 323.1L783.0 323.7L783.5 322.7L784.0 322.7L784.5 323.7L785.0 323.8L785.5 324.6L786.0 324.3L786.5 324.6L787.0 323.9L787.5 324.4L788.0 324.8L788.5 324.5L789.0 324.5L789.5 324.5L790.0 324.1L790.5 324.2L791.0 324.0L791.5 324.9L792.0 324.7L792.5 324.6L793.0 325.1L793.5 324.8L794.0 325.6L794.5 326.0L795.0 325.5L795.5 325.0L796.0 324.8L796.5 326.4L797.0 325.8L797.5 325.1L798.0 326.2L798.5 325.1L799.0 325.7L799.5 325.8L800.0 325.8L800.5 325.6L801.0 327.1L801.5 326.1L802.0 326.5L802.5 326.4L803.0 326.0L803.5 326.4L804.0 326.8L804.5 327.2L805.0 326.9L805.5 327.2L806.0 327.1L806.5 327.5L807.0 326.7L807.5 327.7L808.0 327.5L808.5 327.6L809.0 327.2L809.5 327.7L810.0 328.2L810.5 328.6L811.0 328.1L811.5 328.2L812.0 328.5L812.5 328.6L813.0 328.5L813.5 328.6L814.0 328.7L814.5 328.8L815.0 328.9L815.5 329.0L816.0 329.0L816.5 328.9L817.0 328.9L817.5 328.9L818.0 328.9L818.5 329.0L819.0 328.9L819.5 328.9L820.0 328.9L820.5 328.9L821.0 328.9L821.5 328.9L822.0 328.9L822.5 328.9L825.0 328.9L830.7 328.9L835.6 328.9L837.0 328.9L838.0 328.9L839.0 328.9L840.0 328.9L841.0 328.9L842.0 328.9L843.0 328.9L844.0 328.9L844.5 328.9L847.8 328.9L851.0 328.9L852.0 328.9L853.0 328.9L854.0 328.9L855.0 328.9L856.0 328.9L857.0 328.9L858.0 328.9L859.0 328.9L860.0 328.9L861.0 328.9L862.0 328.9L863.0 328.9L864.0 328.9L865.0 328.9L866.0 328.9L867.0 328.9L868.0 328.9L869.0 328.9L870.0 328.9L871.0 328.9L872.0 328.9L873.0 328.9L874.0 328.9L875.0 328.9L876.0 328.9L877.0 328.9L878.0 328.9L879.0 328.9L880.0 328.9L881.0 328.9L882.0 328.9L883.0 328.9L884.0 328.9L885.0 328.9L886.0 328.9L887.0 328.9L888.0 328.9L889.0 328.9L890.0 328.9L891.0 328.9L892.0 328.9L893.0 328.9L894.0 328.9L895.0 328.9L896.0 328.9L897.0 328.9L898.0 328.9L899.0 328.9L900.0 328.9L901.0 328.9L902.0 328.9L903.0 328.9L904.0 328.9L905.0 328.9L906.0 328.9L907.0 328.9L908.0 328.9L909.0 328.9L910.0 328.9L911.0 328.9L912.0 328.9L913.0 328.9L914.0 328.9L915.0 328.9L916.0 328.9L917.0 328.9L918.0 328.9L919.0 328.9L920.0 328.9L921.0 328.9L922.0 328.9L923.0 328.9L924.0 328.9L925.0 328.9L926.0 328.9L927.0 328.9L928.0 328.9L929.0 328.9L930.0 328.9L931.0 328.9L932.0 328.9L933.0 328.9L934.0 328.9L935.0 328.9L936.0 328.9L937.0 328.9L938.0 328.9L939.0 328.9L940.0 328.9L941.0 328.9L942.0 328.9L943.0 328.9L944.0 328.9L945.0 328.9L946.0 328.9L947.0 328.9L948.0 328.9L949.0 328.9L950.0 328.9L951.0 328.9L952.0 328.9L953.0 328.9L954.0 328.9L955.0 328.9L956.0 328.9L957.0 328.9L958.0 328.9L959.0 328.9L960.0 328.9L961.0 328.9L962.0 328.9L963.0 328.9L964.0 328.9L965.0 328.9L966.0 328.9L967.0 328.9L968.0 328.9L969.0 328.9L970.0 328.9L971.0 328.9L972.0 328.9L973.0 328.9L974.0 328.9L975.0 328.9L976.0 328.9L977.0 328.9L978.0 328.9L979.0 328.9L980.0 328.9L981.0 328.9L982.0 328.9L983.0 328.9L984.0 328.9L985.0 328.9L986.0 328.9L987.0 328.9L988.0 328.9L989.0 328.9L990.0 328.9L991.0 328.9L992.0 328.9L993.0 328.9L994.0 328.9L995.0 328.9L996.0 328.9L997.0 328.9L998.0 328.9L999.0 328.9L1000.0 328.9L1001.0 328.9L1002.0 328.9L1003.0 328.9L1004.0 328.9L1005.0 328.9L1006.0 328.9L1007.0 328.9L1008.0 328.9L1009.0 328.9L1010.0 328.9L1011.0 328.9L1012.0 328.9L1013.0 328.9L1014.0 328.9L1015.0 328.9L1016.0 328.9L1017.0 328.9L1018.0 328.9L1019.0 328.9L1020.0 328.9L1021.0 328.9L1022.0 328.9L1023.0 328.9L1024.0 328.9L1025.0 328.9L1026.0 328.9L1027.0 328.9L1028.0 328.9L1029.0 328.9L1030.0 328.9L1031.0 328.9L1032.0 328.9L1033.0 328.9L1034.0 328.9L1035.0 328.9L1036.0 328.9L1037.0 328.9L1038.0 328.9L1039.0 328.9L1040.0 328.9L1041.0 328.9L1042.0 328.9L1043.0 328.9L1044.0 328.9L1045.0 328.9L1046.0 328.9L1047.0 328.9L1048.0 328.9L1049.0 328.9L1050.0 328.9L1051.0 328.9L1052.0 328.9L1053.0 328.9L1054.0 328.9L1055.0 328.9L1056.0 328.9L1057.0 328.9L1058.0 328.9L1059.0 328.9L1060.0 328.9L1061.0 328.9L1062.0 328.9L1063.0 328.9L1064.0 328.9L1065.0 328.9L1066.0 328.9L1067.0 328.9L1068.0 328.9L1069.0 328.9L1070.0 328.9L1071.0 328.9L1072.0 328.9L1073.0 328.9L1074.0 328.9L1075.0 328.9L1076.0 328.9L1077.0 328.9L1078.0 328.9L1079.0 328.9L1080.0 328.9L1081.0 328.9L1082.0 328.9L1083.0 328.9L1084.0 328.9L1085.0 328.9L1086.0 328.9L1087.0 328.9L1088.0 328.9L1089.0 328.9L1090.0 328.9L1091.0 328.9L1092.0 328.9L1093.0 328.9L1094.0 328.9L1095.0 328.9L1096.0 328.9L1097.0 328.9L1098.0 328.9L1099.0 328.9L1100.0 328.9L1101.0 328.9L1102.0 328.9L1103.0 328.9L1104.0 328.9L1104.8 328.9" stroke="#d80000" stroke-miterlimit="3"/>
<path d="M659.5 493.8L660.0 495.8L660.5 488.9L661.0 490.1L661.5 496.4L662.0 494.5L662.5 492.5L663.0 484.7L663.5 488.7L664.0 492.3L664.5 490.0L665.0 497.8L665.5 492.1L666.0 492.7L666.5 488.5L667.0 488.7L667.5 489.9L668.0 490.0L668.5 491.2L669.0 493.1L669.5 492.7L670.0 495.0L670.5 488.0L671.0 492.7L671.5 492.9L672.0 496.9L672.5 491.6L673.0 493.2L673.5 489.9L674.0 493.6L674.5 493.6L675.0 490.6L675.5 491.2L676.0 492.4L676.5 494.3L677.0 489.2L677.5 495.3L678.0 491.7L678.5 498.4L679.0 497.1L679.5 491.6L680.0 490.9L680.5 500.2L681.0 494.7L681.5 494.5L682.0 491.6L682.5 492.5L683.0 495.3L683.5 494.7L684.0 490.4L684.5 496.6L685.0 493.8L685.5 490.0L686.0 495.9L686.5 492.4L687.0 495.2L687.5 491.2L688.0 493.9L688.5 488.0L689.0 493.9L689.5 488.2L690.0 493.2L690.5 485.1L691.0 492.5L691.5 494.8L692.0 494.0L692.5 496.0L693.0 489.1L693.5 497.0L694.0 497.0L694.5 488.4L695.0 489.5L695.5 490.0L696.0 491.6L696.5 492.0L697.0 483.9L697.5 492.9L698.0 490.2L698.5 487.8L699.0 493.5L699.5 489.4L700.0 493.7L700.5 491.7L701.0 488.9L701.5 493.1L702.0 491.8L702.5 487.5L703.0 483.8L703.5 486.7L704.0 489.9L704.5 486.9L705.0 492.6L705.5 487.7L706.0 487.2L706.5 487.5L707.0 483.3L707.5 485.3L708.0 483.3L708.5 478.0L709.0 479.4L709.5 486.8L710.0 483.1L710.5 483.9L711.0 479.6L711.5 482.1L712.0 486.1L712.5 483.9L713.0 481.9L713.5 488.0L714.0 483.1L714.5 482.1L715.0 486.6L715.5 477.8L716.0 484.7L716.5 479.7L717.0 480.9L717.5 481.4L718.0 484.2L718.5 484.5L719.0 485.5L719.5 485.6L720.0 489.7L720.5 491.1L721.0 488.6L721.5 489.2L722.0 486.1L722.5 484.4L723.0 490.0L723.5 488.8L724.0 491.8L724.5 484.1L725.0 498.4L725.5 486.9L726.0 491.4L726.5 495.0L727.0 488.3L727.5 491.4L728.0 487.5L728.5 490.0L729.0 489.1L729.5 496.0L730.0 497.3L730.5 496.1L731.0 501.7L731.5 502.9L732.0 499.4L732.5 499.6L733.0 500.3L733.5 500.6L734.0 506.9L734.5 504.4L735.0 503.4L735.5 504.6L736.0 507.8L736.5 505.6L737.0 508.7L737.5 508.4L738.0 513.6L738.5 513.9L739.0 506.7L739.5 511.4L740.0 514.9L740.5 512.0L741.0 516.5L741.5 515.6L742.0 516.8L742.5 515.0L743.0 516.3L743.5 517.1L744.0 511.0L744.5 512.8L745.0 512.5L745.5 521.0L746.0 516.7L746.5 517.0L747.0 516.4L747.5 514.2L748.0 513.5L748.5 518.3L749.0 514.3L749.5 520.2L750.0 515.7L750.5 515.0L751.0 513.5L751.5 513.2L752.0 512.6L752.5 516.2L753.0 517.5L753.5 505.3L754.0 508.4L754.5 508.5L755.0 502.0L755.5 501.6L756.0 500.9L756.5 493.6L757.0 502.0L757.5 498.5L758.0 497.1L758.5 496.4L759.0 495.6L759.5 500.8L760.0 492.6L760.5 493.3L761.0 487.7L761.5 489.0L762.0 485.4L762.5 484.3L763.0 480.1L763.5 478.5L764.0 480.5L764.5 479.4L765.0 476.5L765.5 471.0L766.0 472.3L766.5 461.7L767.0 471.2L767.5 466.8L768.0 466.4L768.5 467.9L769.0 461.6L769.5 464.6L770.0 459.0L770.5 461.0L771.0 457.1L771.5 458.5L772.0 461.5L772.5 454.6L773.0 454.6L773.5 455.6L774.0 457.7L774.5 465.6L775.0 455.8L775.5 451.8L776.0 456.7L776.5 454.5L777.0 458.5L777.5 461.1L778.0 459.0L778.5 460.8L779.0 458.1L779.5 465.4L780.0 463.6L780.5 470.3L781.0 471.2L781.5 466.4L782.0 469.4L782.5 472.2L783.0 476.1L783.5 470.6L784.0 477.4L784.5 485.3L785.0 481.3L785.5 484.2L786.0 485.3L786.5 483.4L787.0 491.4L787.5 490.7L788.0 491.8L788.5 494.8L789.0 496.3L789.5 489.4L790.0 497.8L790.5 495.8L791.0 499.3L791.5 497.8L792.0 498.4L792.5 505.0L793.0 503.3L793.5 503.7L794.0 504.9L794.5 507.1L795.0 507.8L795.5 501.6L796.0 506.8L796.5 509.1L797.0 512.2L797.5 514.0L798.0 507.1L798.5 515.7L799.0 510.1L799.5 511.2L800.0 508.0L800.5 507.6L801.0 513.4L801.5 508.3L802.0 508.4L802.5 511.5L803.0 512.1L803.5 501.7L804.0 503.9L804.5 502.8L805.0 506.1L805.5 506.2L806.0 497.8L806.5 497.6L807.0 497.9L807.5 497.9L808.0 493.2L808.5 495.5L809.0 490.8L809.5 485.2L810.0 488.4L810.5 492.9L811.0 495.5L811.5 489.5L812.0 492.8L812.5 499.4L813.0 493.1L813.5 504.8L814.0 508.2L814.5 501.0L815.0 512.4L815.5 512.5L816.0 518.4L816.5 517.8L817.0 518.4L817.5 521.0L818.0 524.6L818.5 525.5L819.0 528.2L819.5 529.1L820.0 536.7L820.5 540.2L821.0 547.8L821.5 550.1L822.0 555.6L822.5 560.7L825.0 595.9" stroke="#d80000"/>
<path d="M825.0 595.9L830.7 634.7L835.6 595.0L837.0 538.9L838.0 514.6L839.0 469.8L840.0 428.8L841.0 412.1L842.0 395.5L843.0 383.0L844.0 372.5L844.5 368.0L847.8 353.5L851.0 360.8L852.0 365.5L853.0 373.4L854.0 384.2L855.0 394.9L856.0 405.2L857.0 415.4L858.0 424.8L859.0 433.4L860.0 443.1L861.0 455.0L862.0 464.9L863.0 471.6L864.0 477.3L865.0 481.8L866.0 484.9L867.0 487.0L868.0 488.7L869.0 489.7L870.0 491.4L871.0 491.4L872.0 491.4L873.0 491.4L874.0 491.4L875.0 491.4L876.0 491.4L877.0 491.4L878.0 491.4L879.0 491.4L880.0 491.4L881.0 491.4L882.0 491.4L883.0 491.4L884.0 491.4L885.0 491.4L886.0 491.4L887.0 491.4L888.0 491.4L889.0 491.4L890.0 491.4L891.0 491.4L892.0 491.4L893.0 491.4L894.0 491.4L895.0 491.4L896.0 491.4L897.0 491.4L898.0 491.4L899.0 491.4L900.0 491.4L901.0 491.4L902.0 491.4L903.0 491.4L904.0 491.4L905.0 491.4L906.0 491.4L907.0 491.4L908.0 491.4L909.0 491.4L910.0 491.4L911.0 491.4L912.0 491.4L913.0 491.4L914.0 491.4L915.0 491.4L916.0 491.4L917.0 491.4L918.0 491.4L919.0 491.4L920.0 491.4L921.0 491.4L922.0 491.4L923.0 491.4L924.0 491.4L925.0 491.4L926.0 491.4L927.0 491.4L928.0 491.4L929.0 491.4L930.0 491.4L931.0 491.4L932.0 491.4L933.0 491.4L934.0 491.4L935.0 491.4L936.0 491.4L937.0 491.4L938.0 491.4L939.0 491.4L940.0 491.4L941.0 491.4L942.0 491.4L943.0 491.4L944.0 491.4L945.0 491.4L946.0 491.4L947.0 491.4L948.0 491.4L949.0 491.4L950.0 491.4L951.0 491.4L952.0 491.4L953.0 491.4L954.0 491.4L955.0 491.4L956.0 491.4L957.0 491.4L958.0 491.4L959.0 491.4L960.0 491.4L961.0 491.4L962.0 491.4L963.0 491.4L964.0 491.4L965.0 491.4L966.0 491.4L967.0 491.4L968.0 491.4L969.0 491.4L970.0 491.4L971.0 491.4L972.0 491.4L973.0 491.4L974.0 491.4L975.0 491.4L976.0 491.4L977.0 491.4L978.0 491.4L979.0 491.4L980.0 491.4L981.0 491.4L982.0 491.4L983.0 491.4L984.0 491.4L985.0 491.4L986.0 491.4L987.0 491.4L988.0 491.4L989.0 491.4L990.0 491.4L991.0 491.4L992.0 491.4L993.0 491.4L994.0 491.4L995.0 491.4L996.0 491.4L997.0 491.4L998.0 491.4L999.0 491.4L1000.0 491.4L1001.0 491.4L1002.0 491.4L1003.0 491.4L1004.0 491.4L1005.0 491.4L1006.0 491.4L1007.0 491.4L1008.0 491.4L1009.0 491.4L1010.0 491.4L1011.0 491.4L1012.0 491.4L1013.0 491.4L1014.0 491.4L1015.0 491.4L1016.0 491.4L1017.0 491.4L1018.0 491.4L1019.0 491.4L1020.0 491.4L1021.0 491.4L1022.0 491.4L1023.0 491.4L1024.0 491.4L1025.0 491.4L1026.0 491.4L1027.0 491.4L1028.0 491.4L1029.0 491.4L1030.0 491.4L1031.0 491.4L1032.0 491.4L1033.0 491.4L1034.0 491.4L1035.0 491.4L1036.0 491.4L1037.0 491.4L1038.0 491.4L1039.0 491.4L1040.0 491.4L1041.0 491.4L1042.0 491.4L1043.0 491.4L1044.0 491.4L1045.0 491.4L1046.0 491.4L1047.0 491.4L1048.0 491.4L1049.0 491.4L1050.0 491.4L1051.0 491.4L1052.0 491.4L1053.0 491.4L1054.0 491.4L1055.0 491.4L1056.0 491.4L1057.0 491.4L1058.0 491.4L1059.0 491.4L1060.0 491.4L1061.0 491.4L1062.0 491.4L1063.0 491.4L1064.0 491.4L1065.0 491.4L1066.0 491.4L1067.0 491.4L1068.0 491.4L1069.0 491.4L1070.0 491.4L1071.0 491.4L1072.0 491.4L1073.0 491.4L1074.0 491.4L1075.0 491.4L1076.0 491.4L1077.0 491.4L1078.0 491.4L1079.0 491.4L1080.0 491.4L1081.0 491.4L1082.0 491.4L1083.0 491.4L1084.0 491.4L1085.0 491.4L1086.0 491.4L1087.0 491.4L1088.0 491.4L1089.0 491.4L1090.0 491.4L1091.0 491.4L1092.0 491.4L1093.0 491.4L1094.0 491.4L1095.0 491.4L1096.0 491.4L1097.0 491.4L1098.0 491.4L1099.0 491.4L1100.0 491.4L1101.0 491.4L1102.0 491.4L1103.0 491.4L1104.0 491.4L1104.8 491.4" stroke="#d80000" stroke-miterlimit="20"/>
<path d="M177.0 166.5L178.0 166.5L179.0 166.5L180.0 166.5L181.0 166.5L182.0 166.5L183.0 166.5L184.0 166.5L185.0 166.5L186.0 166.5L187.0 166.5L188.0 166.5L189.0 166.5L190.0 166.5L191.0 166.5L192.0 166.5L193.0 166.5L194.0 166.5L195.0 166.5L196.0 166.5L197.0 166.5L198.0 166.5L199.0 166.5L200.0 166.5L201.0 166.5L202.0 166.5L203.0 166.5L204.0 166.5L205.0 166.5L206.0 166.5L207.0 166.5L208.0 166.5L209.0 166.5L210.0 166.5L211.0 166.5L212.0 166.5L213.0 166.5L214.0 166.5L215.0 166.5L216.0 166.5L217.0 166.5L218.0 166.5L219.0 166.5L220.0 166.5L221.0 166.5L222.0 166.5L223.0 166.5L224.0 166.5L225.0 166.5L226.0 166.5L227.0 166.5L228.0 166.5L229.0 166.5L230.0 166.5L231.0 166.5L232.0 166.5L233.0 166.5L234.0 166.5L235.0 166.5L236.0 166.5L237.0 166.5L238.0 166.5L239.0 166.5L240.0 166.5L241.0 166.5L242.0 166.5L243.0 166.5L244.0 166.5L245.0 166.5L246.0 166.5L247.0 166.5L248.0 166.5L249.0 166.5L250.0 166.5L251.0 166.5L252.0 166.5L253.0 166.5L254.0 166.5L255.0 166.5L256.0 166.5L257.0 166.5L258.0 166.5L259.0 166.5L260.0 166.5L261.0 166.5L262.0 166.5L263.0 166.5L264.0 166.5L265.0 166.5L266.0 166.5L267.0 166.5L268.0 166.5L269.0 166.5L270.0 166.5L271.0 166.5L272.0 166.5L273.0 166.5L274.0 166.5L275.0 166.5L276.0 166.5L277.0 166.5L278.0 166.5L279.0 166.5L280.0 166.5L281.0 166.5L282.0 166.5L283.0 166.5L284.0 166.5L285.0 166.5L286.0 166.5L287.0 166.5L288.0 166.5L289.0 166.5L290.0 166.5L291.0 166.5L292.0 166.5L293.0 166.5L294.0 166.5L295.0 166.5L296.0 166.5L297.0 166.5L298.0 166.5L299.0 166.5L300.0 166.4L301.0 166.4L302.0 166.4L303.0 166.4L304.0 166.4L305.0 166.4L306.0 166.4L307.0 166.4L308.0 166.3L309.0 166.3L310.0 166.3L311.0 166.3L312.0 166.2L313.0 166.2L314.0 166.2L315.0 166.1L316.0 166.0L317.0 166.0L318.0 165.9L319.0 165.8L320.0 165.8L321.0 165.7L322.0 165.6L323.0 165.5L324.0 165.4L325.0 165.3L326.0 165.2L327.0 165.0L328.0 164.8L329.0 164.6L330.0 164.4L331.0 164.2L332.0 164.0L333.0 163.8L334.0 163.6L335.0 163.4L336.0 163.3L337.0 163.2L338.0 163.2L339.0 163.2L340.0 163.2L341.0 163.3L342.0 163.4L343.0 163.4L344.0 163.5L345.0 163.6L346.0 163.7L347.0 163.8L348.0 163.9L349.0 164.0L350.0 164.2L351.0 164.3L352.0 164.5L353.0 164.6L354.0 164.6L355.0 164.5L356.0 164.2L357.0 163.7L358.0 163.1L359.0 162.4L360.0 161.6L361.0 160.8L362.0 160.0L363.0 159.0L364.0 157.7L365.0 156.2L366.0 154.8L367.0 153.5L368.0 152.5L369.0 151.8L370.0 151.0L371.0 150.3L372.0 149.7L373.0 149.2L374.0 148.8L375.0 148.6L376.0 148.6L377.0 148.9L378.0 149.3L379.0 149.8L380.0 150.5L381.0 151.2L382.0 152.0L383.0 153.0L384.0 154.3L385.0 155.8L386.0 157.4L387.0 158.8L388.0 160.0L389.0 161.0L390.0 162.0L391.0 162.9L392.0 163.7L393.0 164.4L394.0 164.8L395.0 165.1L396.0 165.4L397.0 165.6L398.0 165.8L399.0 165.9L400.0 166.0L401.0 166.0L402.0 166.1L403.0 166.1L404.0 166.1L405.0 166.1L406.0 166.1L407.0 166.1L408.0 166.2L409.0 166.2L410.0 166.2L411.0 166.2L412.0 166.2L413.0 166.2L414.0 166.2L415.0 166.1L416.0 165.6L417.0 164.7L418.0 163.4L419.0 161.9L420.0 160.3L421.0 158.6L422.0 156.6L423.0 153.9L424.0 150.9L425.0 147.7L426.0 144.4L427.0 141.2L428.0 137.7L429.0 134.1L430.0 130.4L431.0 126.6L432.0 122.7L433.0 118.3L434.0 113.8L437.5 106.5L441.0 116.7L442.0 124.8L443.0 134.9L444.0 145.9L445.0 158.1L445.8 168.9L448.2 211.0L450.6 239.2L455.3 277.0L461.0 240.7" stroke="#0000e6" stroke-miterlimit="20"/>
<path d="M461.0 240.7L465.6 218.0L466.0 218.2L466.5 217.4L467.0 213.9L467.5 209.2L468.0 208.0L468.5 205.9L469.0 198.7L469.5 195.6L470.0 195.0L470.5 196.2L471.0 195.1L471.5 189.8L472.0 191.0L472.5 188.0L473.0 183.6L473.5 180.2L474.0 178.9L474.5 179.2L475.0 181.2L475.5 178.3L476.0 171.2L476.5 169.9L477.0 173.8L477.5 170.6L478.0 166.0L478.5 168.9L479.0 169.2L479.5 166.2L480.0 162.9L480.5 164.7L481.0 158.5L481.5 156.4L482.0 154.0L482.5 160.2L483.0 159.2L483.5 151.6L484.0 151.7L484.5 149.6L485.0 149.1L485.5 147.9L486.0 144.5L486.5 140.2L487.0 136.9L487.5 133.4L488.0 126.7L488.5 131.9L489.0 127.7L489.5 128.3L490.0 126.0L490.5 121.6L491.0 121.5L491.5 122.6L492.0 120.6L492.5 116.2L493.0 115.2L493.5 117.8L494.0 115.5L494.5 114.4L495.0 111.7L495.5 113.2L496.0 110.2L496.5 116.4L497.0 106.5L497.5 105.0L498.0 111.4L498.5 105.7L499.0 103.3L499.5 106.9L500.0 98.7L500.5 107.5L501.0 106.9L501.5 108.6L502.0 106.5L502.5 114.1L503.0 112.5L503.5 113.0L504.0 115.6L504.5 113.6L505.0 117.2L505.5 114.5L506.0 117.2L506.5 123.0L507.0 124.1L507.5 127.8L508.0 125.4L508.5 129.0L509.0 129.3L509.5 134.2L510.0 137.9L510.5 140.9L511.0 141.6L511.5 139.8L512.0 145.1L512.5 143.6L513.0 143.3L513.5 151.9L514.0 154.0L514.5 158.4L515.0 161.1L515.5 157.5L516.0 161.1L516.5 166.5L517.0 169.6L517.5 173.5L518.0 171.4L518.5 177.9L519.0 184.2L519.5 192.4L520.0 187.5L520.5 200.6L521.0 198.1L521.5 197.0L522.0 207.9L522.5 202.8L523.0 204.5L523.5 211.8L524.0 213.8L524.5 211.1L525.0 208.5L525.5 205.6L526.0 209.8L526.5 201.2L527.0 202.8L527.5 209.4L528.0 206.9L528.5 207.7L529.0 204.1L529.5 198.1L530.0 201.9L530.5 193.5L531.0 199.9L531.5 200.6L532.0 191.9L532.5 196.9L533.0 192.5L533.5 190.6L534.0 183.7L534.5 188.2L535.0 190.3L535.5 181.0L536.0 183.7L536.5 181.8L537.0 177.8L537.5 185.0L538.0 180.6L538.5 179.6L539.0 181.5L539.5 174.9L540.0 186.5L540.5 173.7L541.0 170.4L541.5 175.1L542.0 173.3L542.5 168.1L543.0 167.4L543.5 172.0L544.0 169.5L544.5 169.0L545.0 169.7L545.5 164.2L546.0 169.5L546.5 164.7L547.0 166.2L547.5 160.2L548.0 164.8L548.5 162.5L549.0 168.9L549.5 159.7L550.0 164.5L550.5 161.0L551.0 163.4L551.5 158.5L552.0 158.7L552.5 149.5L553.0 152.1L553.5 159.3L554.0 156.9L554.5 157.8L555.0 154.2L555.5 157.5L556.0 153.6L556.5 154.4L557.0 158.4L557.5 157.8L558.0 152.7L558.5 154.2L559.0 154.6L559.5 153.3L560.0 153.3L560.5 150.4L561.0 155.3L561.5 149.9L562.0 150.1L562.5 157.4L563.0 159.2L563.5 159.2L564.0 154.2L564.5 151.3L565.0 155.5L565.5 158.2L566.0 153.5L566.5 151.8L567.0 147.7L567.5 147.7L568.0 159.0L568.5 148.6L569.0 151.4L569.5 152.7L570.0 154.6L570.5 149.7L571.0 156.0L571.5 156.2L572.0 154.7L572.5 152.6L573.0 153.6L573.5 148.7L574.0 157.3L574.5 153.7L575.0 151.1L575.5 155.7L576.0 157.7L576.5 157.5L577.0 158.6L577.5 160.6L578.0 155.2L578.5 157.8L579.0 158.4L579.5 153.1L580.0 161.8L580.5 157.6L581.0 159.9L581.5 160.5L582.0 157.4L582.5 163.2L583.0 164.3L583.5 162.2L584.0 152.6L584.5 167.2L585.0 162.8L585.5 161.7L586.0 162.4L586.5 161.3L587.0 164.2L587.5 167.9L588.0 162.7L588.5 167.5L589.0 165.2L589.5 166.7L590.0 166.7L590.5 169.2L591.0 171.9L591.5 168.9L592.0 172.2L592.5 174.5L593.0 165.2L593.5 172.9L594.0 169.6L594.5 170.3L595.0 174.4L595.5 170.7L596.0 169.7L596.5 176.2L597.0 175.7L597.5 173.8L598.0 181.9L598.5 169.5L599.0 167.5L599.5 172.3L600.0 169.2L600.5 174.2L601.0 171.0L601.5 171.0L602.0 172.9L602.5 170.1L603.0 166.5L603.5 170.3L604.0 175.0L604.5 173.3L605.0 175.6L605.5 178.0L606.0 175.2L606.5 172.1L607.0 169.7L607.5 173.7L608.0 177.4L608.5 176.7L609.0 175.1L609.5 169.4L610.0 173.9L610.5 174.3L611.0 176.0L611.5 167.8L612.0 169.7L612.5 172.5L613.0 172.5L613.5 170.1L614.0 173.7L614.5 171.1L615.0 175.8L615.5 170.6L616.0 172.9L616.5 165.3L617.0 172.9L617.5 170.1L618.0 174.7L618.5 171.9L619.0 176.5L619.5 170.8L620.0 167.9L620.5 173.5L621.0 174.6L621.5 170.4L622.0 168.6L622.5 175.5L622.6 176.5" stroke="#0000e6"/>
<path d="M177.0 328.9L178.0 328.9L179.0 328.9L180.0 328.9L181.0 328.9L182.0 328.9L183.0 328.9L184.0 328.9L185.0 328.9L186.0 328.9L187.0 328.9L188.0 328.9L189.0 328.9L190.0 328.9L191.0 328.9L192.0 328.9L193.0 328.9L194.0 328.9L195.0 328.9L196.0 328.9L197.0 328.9L198.0 328.9L199.0 328.9L200.0 328.9L201.0 328.9L202.0 328.9L203.0 328.9L204.0 328.9L205.0 328.9L206.0 328.9L207.0 328.9L208.0 328.9L209.0 328.9L210.0 328.9L211.0 328.9L212.0 328.9L213.0 328.9L214.0 328.9L215.0 328.9L216.0 328.9L217.0 328.9L218.0 328.9L219.0 328.9L220.0 328.9L221.0 328.9L222.0 328.9L223.0 328.9L224.0 328.9L225.0 328.9L226.0 328.9L227.0 328.9L228.0 328.9L229.0 328.9L230.0 328.9L231.0 328.9L232.0 328.9L233.0 328.9L234.0 328.9L235.0 328.9L236.0 328.9L237.0 328.9L238.0 328.9L239.0 328.9L240.0 328.9L241.0 328.9L242.0 328.9L243.0 328.9L244.0 328.9L245.0 328.9L246.0 328.9L247.0 328.9L248.0 328.9L249.0 328.9L250.0 328.9L251.0 328.9L252.0 328.9L253.0 328.9L254.0 328.9L255.0 328.9L256.0 328.9L257.0 328.9L258.0 328.9L259.0 328.9L260.0 328.9L261.0 328.9L262.0 328.9L263.0 328.9L264.0 328.9L265.0 328.9L266.0 328.9L267.0 328.9L268.0 328.9L269.0 328.9L270.0 328.9L271.0 328.9L272.0 328.9L273.0 328.9L274.0 328.9L275.0 328.9L276.0 328.9L277.0 328.9L278.0 328.9L279.0 328.9L280.0 328.9L281.0 328.9L282.0 328.9L283.0 328.9L284.0 328.9L285.0 328.9L286.0 328.9L287.0 328.9L288.0 328.9L289.0 328.9L290.0 328.9L291.0 328.9L292.0 328.9L293.0 328.9L294.0 328.9L295.0 328.9L296.0 328.9L297.0 328.9L298.0 328.9L299.0 328.9L300.0 328.9L301.0 328.9L302.0 328.9L303.0 328.9L304.0 328.9L305.0 328.9L306.0 328.9L307.0 328.9L308.0 328.9L309.0 328.9L310.0 328.9L311.0 328.9L312.0 328.9L313.0 328.9L314.0 328.9L315.0 328.9L316.0 328.9L317.0 328.9L318.0 328.9L319.0 328.9L320.0 328.9L321.0 328.9L322.0 328.9L323.0 328.9L324.0 328.9L325.0 328.9L326.0 328.9L327.0 328.9L328.0 328.9L329.0 328.9L330.0 328.9L331.0 328.9L332.0 328.9L333.0 328.9L334.0 328.9L335.0 328.9L336.0 328.9L337.0 328.9L338.0 328.9L339.0 328.9L340.0 328.9L341.0 328.9L342.0 328.9L343.0 328.9L344.0 328.9L345.0 328.9L346.0 328.9L347.0 328.9L348.0 328.9L349.0 328.9L350.0 328.9L351.0 328.9L352.0 328.9L353.0 328.9L354.0 328.9L355.0 328.9L356.0 328.9L357.0 328.9L358.0 328.9L359.0 328.9L360.0 328.9L361.0 328.9L362.0 328.9L363.0 328.9L364.0 328.9L365.0 328.9L366.0 328.9L367.0 328.9L368.0 328.9L369.0 328.9L370.0 328.9L371.0 328.9L372.0 328.9L373.0 328.9L374.0 328.9L375.0 328.9L376.0 328.9L377.0 328.9L378.0 328.9L379.0 328.9L380.0 328.9L381.0 328.9L382.0 328.9L383.0 328.9L384.0 328.9L385.0 328.9L386.0 328.9L387.0 328.9L388.0 328.9L389.0 328.9L390.0 328.9L391.0 328.9L392.0 328.9L393.0 328.9L394.0 328.9L395.0 328.9L396.0 328.9L397.0 328.9L398.0 328.9L399.0 328.9L400.0 328.9L401.0 328.9L402.0 328.9L403.0 328.9L404.0 328.9L405.0 328.9L406.0 328.9L407.0 328.9L408.0 328.9L409.0 328.9L410.0 328.9L411.0 328.9L412.0 328.9L413.0 328.9L414.0 328.9L415.0 328.9L416.0 328.9L417.0 328.9L418.0 328.9L419.0 328.9L420.0 328.9L421.0 328.9L422.0 328.9L423.0 328.9L424.0 328.9L425.0 328.9L426.0 328.9L427.0 328.9L428.0 328.9L429.0 328.9L430.0 328.9L431.0 328.9L432.0 328.9L433.0 328.9L434.0 328.9L437.5 328.9L441.0 328.9L442.0 328.9L443.0 328.9L444.0 328.9L445.0 329.0L445.8 329.0L448.2 329.0L450.6 329.1L455.3 329.3L461.0 330.0L465.6 330.7L466.0 331.4L466.5 331.5L467.0 331.8L467.5 331.4L468.0 331.9L468.5 331.0L469.0 332.0L469.5 331.8L470.0 332.0L470.5 332.3L471.0 332.0L471.5 332.3L472.0 332.1L472.5 332.2L473.0 332.2L473.5 332.9L474.0 333.4L474.5 332.4L475.0 332.2L475.5 332.9L476.0 333.3L476.5 333.3L477.0 332.6L477.5 333.3L478.0 332.8L478.5 333.1L479.0 333.3L479.5 333.2L480.0 333.8L480.5 333.3L481.0 334.6L481.5 333.8L482.0 333.1L482.5 334.4L483.0 334.4L483.5 334.1L484.0 333.9L484.5 334.2L485.0 334.6L485.5 334.0L486.0 334.6L486.5 333.8L487.0 334.5L487.5 333.6L488.0 334.5L488.5 334.7L489.0 334.0L489.5 334.6L490.0 333.3L490.5 334.4L491.0 334.3L491.5 334.9L492.0 334.5L492.5 335.2L493.0 335.8L493.5 334.7L494.0 335.2L494.5 335.8L495.0 335.3L495.5 335.5L496.0 334.6L496.5 335.1L497.0 334.2L497.5 335.4L498.0 335.1L498.5 335.2L499.0 333.7L499.5 335.6L500.0 336.0L500.5 335.9L501.0 335.3L501.5 335.9L502.0 335.1L502.5 334.6L503.0 335.1L503.5 334.6L504.0 336.3L504.5 333.5L505.0 335.3L505.5 334.6L506.0 334.9L506.5 335.7L507.0 335.2L507.5 336.1L508.0 335.2L508.5 335.3L509.0 335.5L509.5 336.3L510.0 335.0L510.5 335.3L511.0 335.2L511.5 335.4L512.0 334.9L512.5 335.6L513.0 336.2L513.5 336.9L514.0 336.4L514.5 335.7L515.0 337.2L515.5 335.0L516.0 336.7L516.5 335.6L517.0 336.4L517.5 335.6L518.0 335.5L518.5 336.3L519.0 338.0L519.5 337.1L520.0 337.5L520.5 336.7L521.0 337.0L521.5 336.5L522.0 336.7L522.5 336.9L523.0 337.8L523.5 337.4L524.0 336.7L524.5 337.1L525.0 336.6L525.5 337.6L526.0 337.4L526.5 337.4L527.0 337.7L527.5 337.6L528.0 338.3L528.5 336.7L529.0 337.8L529.5 337.1L530.0 337.9L530.5 336.8L531.0 336.0L531.5 336.9L532.0 336.7L532.5 336.4L533.0 336.9L533.5 338.1L534.0 336.9L534.5 337.7L535.0 338.2L535.5 338.0L536.0 337.5L536.5 337.9L537.0 336.8L537.5 336.1L538.0 336.0L538.5 337.8L539.0 338.2L539.5 336.9L540.0 337.1L540.5 335.3L541.0 337.6L541.5 337.0L542.0 335.6L542.5 337.4L543.0 337.4L543.5 337.5L544.0 336.6L544.5 336.7L545.0 335.6L545.5 337.2L546.0 335.5L546.5 336.5L547.0 335.7L547.5 334.8L548.0 335.8L548.5 333.9L549.0 334.5L549.5 334.0L550.0 333.6L550.5 333.6L551.0 333.7L551.5 332.6L552.0 332.2L552.5 332.1L553.0 331.5L553.5 330.9L554.0 331.6L554.5 329.6L555.0 330.7L555.5 330.0L556.0 330.2L556.5 330.2L557.0 329.8L557.5 329.3L558.0 330.1L558.5 328.4L559.0 327.6L559.5 328.2L560.0 328.8L560.5 329.5L561.0 329.5L561.5 327.9L562.0 328.4L562.5 328.6L563.0 326.7L563.5 328.1L564.0 327.1L564.5 326.5L565.0 326.9L565.5 326.9L566.0 324.6L566.5 326.3L567.0 326.4L567.5 325.7L568.0 326.4L568.5 325.9L569.0 325.6L569.5 326.2L570.0 324.6L570.5 326.6L571.0 326.8L571.5 326.6L572.0 326.8L572.5 326.0L573.0 325.9L573.5 324.9L574.0 324.9L574.5 325.8L575.0 327.2L575.5 326.5L576.0 327.7L576.5 327.2L577.0 325.7L577.5 326.1L578.0 325.7L578.5 325.4L579.0 326.9L579.5 327.3L580.0 325.9L580.5 327.7L581.0 327.5L581.5 326.3L582.0 327.1L582.5 326.0L583.0 326.9L583.5 327.4L584.0 325.3L584.5 328.2L585.0 325.5L585.5 327.1L586.0 326.6L586.5 327.8L587.0 326.3L587.5 326.6L588.0 329.9L588.5 328.7L589.0 327.9L589.5 326.6L590.0 327.5L590.5 325.7L591.0 326.5L591.5 327.7L592.0 328.0L592.5 327.0L593.0 328.0L593.5 328.1L594.0 326.5L594.5 327.6L595.0 327.4L595.5 328.7L596.0 326.3L596.5 327.9L597.0 327.3L597.5 329.4L598.0 325.4L598.5 329.1L599.0 327.3L599.5 328.0L600.0 326.1L600.5 326.3L601.0 327.3L601.5 327.6L602.0 325.2L602.5 326.9L603.0 327.1L603.5 327.4L604.0 328.1L604.5 327.8L605.0 327.3L605.5 326.3L606.0 326.0L606.5 327.6L607.0 328.9L607.5 327.5L608.0 328.4L608.5 326.4L609.0 328.4L609.5 327.3L610.0 327.6L610.5 328.1L611.0 328.2L611.5 327.7L612.0 327.8L612.5 327.8L613.0 326.8L613.5 327.2L614.0 327.5L614.5 329.0L615.0 326.3L615.5 327.5L616.0 328.4L616.5 328.1L617.0 326.5L617.5 326.2L618.0 326.8L618.5 327.6L619.0 328.1L619.5 327.1L620.0 327.4L620.5 326.9L621.0 326.5L621.5 328.5L622.0 329.0L622.5 327.1L622.6 326.4" stroke="#0000e6" stroke-miterlimit="3"/>
<path d="M177.0 491.4L178.0 491.4L179.0 491.4L180.0 491.4L181.0 491.4L182.0 491.4L183.0 491.4L184.0 491.4L185.0 491.4L186.0 491.4L187.0 491.4L188.0 491.4L189.0 491.4L190.0 491.4L191.0 491.4L192.0 491.4L193.0 491.4L194.0 491.4L195.0 491.4L196.0 491.4L197.0 491.4L198.0 491.4L199.0 491.4L200.0 491.4L201.0 491.4L202.0 491.4L203.0 491.4L204.0 491.4L205.0 491.4L206.0 491.4L207.0 491.4L208.0 491.4L209.0 491.4L210.0 491.4L211.0 491.4L212.0 491.4L213.0 491.4L214.0 491.4L215.0 491.4L216.0 491.4L217.0 491.4L218.0 491.4L219.0 491.4L220.0 491.4L221.0 491.4L222.0 491.4L223.0 491.4L224.0 491.4L225.0 491.4L226.0 491.4L227.0 491.4L228.0 491.4L229.0 491.4L230.0 491.4L231.0 491.4L232.0 491.4L233.0 491.4L234.0 491.4L235.0 491.4L236.0 491.4L237.0 491.4L238.0 491.4L239.0 491.4L240.0 491.4L241.0 491.4L242.0 491.4L243.0 491.4L244.0 491.4L245.0 491.4L246.0 491.4L247.0 491.4L248.0 491.4L249.0 491.4L250.0 491.4L251.0 491.4L252.0 491.4L253.0 491.4L254.0 491.4L255.0 491.4L256.0 491.4L257.0 491.4L258.0 491.4L259.0 491.4L260.0 491.4L261.0 491.4L262.0 491.4L263.0 491.4L264.0 491.4L265.0 491.4L266.0 491.4L267.0 491.4L268.0 491.4L269.0 491.4L270.0 491.4L271.0 491.4L272.0 491.4L273.0 491.4L274.0 491.4L275.0 491.4L276.0 491.4L277.0 491.4L278.0 491.4L279.0 491.4L280.0 491.4L281.0 491.4L282.0 491.4L283.0 491.4L284.0 491.4L285.0 491.4L286.0 491.4L287.0 491.4L288.0 491.4L289.0 491.4L290.0 491.4L291.0 491.4L292.0 491.4L293.0 491.4L294.0 491.4L295.0 491.4L296.0 491.4L297.0 491.4L298.0 491.4L299.0 491.4L300.0 491.4L301.0 491.4L302.0 491.4L303.0 491.4L304.0 491.4L305.0 491.4L306.0 491.4L307.0 491.4L308.0 491.4L309.0 491.4L310.0 491.4L311.0 491.4L312.0 491.4L313.0 491.4L314.0 491.4L315.0 491.4L316.0 491.4L317.0 491.4L318.0 491.4L319.0 491.4L320.0 491.4L321.0 491.4L322.0 491.4L323.0 491.4L324.0 491.4L325.0 491.4L326.0 491.4L327.0 491.4L328.0 491.4L329.0 491.4L330.0 491.4L331.0 491.4L332.0 491.4L333.0 491.4L334.0 491.4L335.0 491.4L336.0 491.4L337.0 491.4L338.0 491.4L339.0 491.4L340.0 491.4L341.0 491.4L342.0 491.4L343.0 491.4L344.0 491.4L345.0 491.4L346.0 491.4L347.0 491.4L348.0 491.4L349.0 491.4L350.0 491.4L351.0 491.4L352.0 491.4L353.0 491.4L354.0 491.4L355.0 491.4L356.0 491.4L357.0 491.4L358.0 491.4L359.0 491.4L360.0 491.4L361.0 491.4L362.0 491.4L363.0 491.4L364.0 491.4L365.0 491.4L366.0 491.4L367.0 491.4L368.0 491.4L369.0 491.4L370.0 491.4L371.0 491.4L372.0 491.4L373.0 491.4L374.0 491.4L375.0 491.4L376.0 491.4L377.0 491.4L378.0 491.4L379.0 491.4L380.0 491.4L381.0 491.4L382.0 491.4L383.0 491.4L384.0 491.4L385.0 491.4L386.0 491.4L387.0 491.4L388.0 491.4L389.0 491.4L390.0 491.4L391.0 491.4L392.0 491.4L393.0 491.4L394.0 491.4L395.0 491.4L396.0 491.4L397.0 491.4L398.0 491.4L399.0 491.4L400.0 491.4L401.0 491.4L402.0 491.4L403.0 491.4L404.0 491.4L405.0 491.4L406.0 491.4L407.0 491.4L408.0 491.4L409.0 491.4L410.0 491.4L411.0 491.4L412.0 491.4L413.0 491.4L414.0 491.4L415.0 491.0L416.0 490.5L417.0 489.6L418.0 488.3L419.0 486.8L420.0 485.2L421.0 483.5L422.0 481.5L423.0 478.8L424.0 475.8L425.0 472.6L426.0 469.3L427.0 466.1L428.0 462.6L429.0 459.0L430.0 455.3L431.0 451.5L432.0 447.6L433.0 443.2L434.0 438.7L437.5 431.4L441.0 441.6L442.0 449.9L443.0 459.9L444.0 471.0L445.0 483.0L445.8 493.7L448.2 535.6L450.6 565.0L455.3 602.7L461.0 563.7" stroke="#0000e6" stroke-miterlimit="20"/>
<path d="M461.0 563.7L465.6 547.0L466.0 540.0L466.5 536.9L467.0 536.4L467.5 529.7L468.0 531.9L468.5 526.1L469.0 520.8L469.5 520.3L470.0 516.5L470.5 517.1L471.0 512.0L471.5 512.5L472.0 504.1L472.5 505.7L473.0 506.2L473.5 504.4L474.0 501.6L474.5 501.8L475.0 500.4L475.5 496.8L476.0 495.9L476.5 496.1L477.0 492.7L477.5 483.9L478.0 484.9L478.5 485.7L479.0 487.7L479.5 484.5L480.0 484.5L480.5 483.9L481.0 481.1L481.5 475.5L482.0 478.8L482.5 471.2L483.0 469.7L483.5 470.3L484.0 463.6L484.5 472.7L485.0 472.7L485.5 463.7L486.0 461.1L486.5 454.2L487.0 459.4L487.5 453.9L488.0 450.4L488.5 447.8L489.0 449.4L489.5 447.2L490.0 445.7L490.5 442.6L491.0 437.9L491.5 445.7L492.0 442.7L492.5 437.4L493.0 434.1L493.5 433.9L494.0 437.8L494.5 436.2L495.0 434.5L495.5 436.2L496.0 430.1L496.5 435.1L497.0 430.6L497.5 427.2L498.0 430.5L498.5 429.5L499.0 426.2L499.5 433.5L500.0 423.4L500.5 429.4L501.0 430.5L501.5 427.9L502.0 431.1L502.5 435.9L503.0 429.8L503.5 431.2L504.0 434.6L504.5 438.4L505.0 441.5L505.5 441.1L506.0 437.2L506.5 445.2L507.0 445.4L507.5 447.9L508.0 441.5L508.5 443.1L509.0 447.8L509.5 450.3L510.0 453.5L510.5 452.2L511.0 454.2L511.5 460.7L512.0 455.1L512.5 459.9L513.0 465.5L513.5 469.7L514.0 470.2L514.5 476.2L515.0 474.4L515.5 477.7L516.0 480.2L516.5 480.1L517.0 478.3L517.5 483.8L518.0 486.6L518.5 487.2L519.0 494.9L519.5 495.1L520.0 496.3L520.5 504.6L521.0 504.3L521.5 511.0L522.0 503.4L522.5 508.1L523.0 514.9L523.5 516.9L524.0 517.2L524.5 521.8L525.0 516.2L525.5 514.9L526.0 518.3L526.5 514.0L527.0 515.3L527.5 517.1L528.0 511.9L528.5 511.4L529.0 509.2L529.5 511.6L530.0 511.5L530.5 512.0L531.0 510.1L531.5 513.3L532.0 506.8L532.5 505.9L533.0 503.8L533.5 507.8L534.0 503.4L534.5 501.5L535.0 497.5L535.5 500.3L536.0 502.6L536.5 491.0L537.0 494.6L537.5 494.3L538.0 493.7L538.5 495.4L539.0 493.1L539.5 493.8L540.0 493.3L540.5 495.7L541.0 489.7L541.5 490.7L542.0 487.9L542.5 488.3L543.0 485.9L543.5 482.6L544.0 486.8L544.5 488.3L545.0 481.4L545.5 483.7L546.0 483.2L546.5 476.1L547.0 488.5L547.5 486.5L548.0 485.1L548.5 484.1L549.0 477.7L549.5 472.2L550.0 479.4L550.5 479.4L551.0 477.9L551.5 477.1L552.0 481.4L552.5 480.5L553.0 477.8L553.5 476.2L554.0 485.1L554.5 480.5L555.0 478.3L555.5 473.9L556.0 473.2L556.5 469.4L557.0 477.6L557.5 479.5L558.0 478.1L558.5 478.7L559.0 479.6L559.5 481.6L560.0 473.2L560.5 475.0L561.0 482.1L561.5 480.2L562.0 481.1L562.5 476.3L563.0 484.6L563.5 480.2L564.0 479.2L564.5 477.2L565.0 480.8L565.5 480.9L566.0 480.1L566.5 485.8L567.0 484.5L567.5 480.7L568.0 478.9L568.5 479.5L569.0 482.1L569.5 472.0L570.0 482.3L570.5 480.7L571.0 488.5L571.5 483.2L572.0 481.3L572.5 482.2L573.0 480.2L573.5 480.1L574.0 482.4L574.5 476.3L575.0 483.0L575.5 477.7L576.0 481.0L576.5 481.2L577.0 486.1L577.5 489.1L578.0 488.9L578.5 482.9L579.0 484.0L579.5 485.2L580.0 485.9L580.5 489.5L581.0 488.4L581.5 486.6L582.0 493.4L582.5 490.6L583.0 494.2L583.5 488.5L584.0 491.1L584.5 490.8L585.0 490.9L585.5 487.4L586.0 492.2L586.5 487.1L587.0 493.6L587.5 498.5L588.0 497.0L588.5 494.7L589.0 493.1L589.5 496.9L590.0 491.3L590.5 491.1L591.0 491.1L591.5 496.9L592.0 491.7L592.5 498.2L593.0 499.9L593.5 499.2L594.0 496.9L594.5 498.9L595.0 493.9L595.5 498.7L596.0 503.8L596.5 503.3L597.0 493.6L597.5 498.7L598.0 498.0L598.5 502.2L599.0 500.2L599.5 499.0L600.0 497.3L600.5 499.9L601.0 498.9L601.5 499.5L602.0 498.7L602.5 495.2L603.0 500.5L603.5 500.5L604.0 499.7L604.5 499.8L605.0 502.8L605.5 502.3L606.0 504.1L606.5 500.9L607.0 501.3L607.5 498.7L608.0 495.1L608.5 494.6L609.0 500.1L609.5 498.8L610.0 500.2L610.5 490.8L611.0 497.6L611.5 498.7L612.0 497.1L612.5 497.4L613.0 492.4L613.5 497.9L614.0 502.4L614.5 494.6L615.0 500.2L615.5 496.0L616.0 499.0L616.5 503.2L617.0 498.7L617.5 499.8L618.0 500.8L618.5 498.6L619.0 502.9L619.5 492.3L620.0 497.9L620.5 492.8L621.0 494.2L621.5 499.2L622.0 495.4L622.5 498.1L622.6 503.9" stroke="#0000e6"/>
<path d="M659.5 171.3L660.0 163.9L660.5 164.3L661.0 169.3L661.5 175.0L662.0 167.3L662.5 168.7L663.0 173.7L663.5 164.3L664.0 162.9L664.5 175.7L665.0 171.6L665.5 166.7L666.0 169.8L666.5 171.1L667.0 166.9L667.5 176.5L668.0 162.1L668.5 173.3L669.0 169.0L669.5 168.3L670.0 168.5L670.5 165.3L671.0 166.8L671.5 165.8L672.0 162.5L672.5 169.5L673.0 162.8L673.5 164.0L674.0 174.1L674.5 165.5L675.0 172.6L675.5 171.8L676.0 168.0L676.5 172.6L677.0 165.2L677.5 164.1L678.0 165.5L678.5 165.9L679.0 168.8L679.5 173.8L680.0 164.1L680.5 166.0L681.0 166.8L681.5 167.8L682.0 165.7L682.5 171.6L683.0 165.4L683.5 163.5L684.0 172.5L684.5 171.5L685.0 166.6L685.5 163.5L686.0 167.1L686.5 169.0L687.0 171.9L687.5 172.1L688.0 165.3L688.5 166.6L689.0 165.6L689.5 166.4L690.0 164.5L690.5 164.8L691.0 165.4L691.5 166.2L692.0 159.4L692.5 164.2L693.0 168.0L693.5 166.9L694.0 167.6L694.5 167.6L695.0 166.7L695.5 168.3L696.0 164.6L696.5 160.1L697.0 168.5L697.5 165.2L698.0 157.8L698.5 166.5L699.0 166.1L699.5 158.6L700.0 164.4L700.5 162.5L701.0 163.7L701.5 160.1L702.0 167.6L702.5 158.2L703.0 157.4L703.5 159.2L704.0 160.1L704.5 157.9L705.0 164.7L705.5 155.6L706.0 166.9L706.5 153.4L707.0 159.6L707.5 163.8L708.0 165.6L708.5 156.4L709.0 151.7L709.5 154.2L710.0 154.7L710.5 158.7L711.0 152.8L711.5 159.3L712.0 152.5L712.5 158.5L713.0 164.4L713.5 158.0L714.0 159.4L714.5 155.9L715.0 154.1L715.5 157.0L716.0 157.2L716.5 145.0L717.0 152.5L717.5 162.9L718.0 157.9L718.5 156.8L719.0 155.1L719.5 155.6L720.0 156.8L720.5 146.3L721.0 164.3L721.5 160.0L722.0 156.2L722.5 164.2L723.0 159.4L723.5 165.4L724.0 158.6L724.5 164.3L725.0 155.9L725.5 165.5L726.0 157.6L726.5 163.5L727.0 165.5L727.5 158.9L728.0 165.8L728.5 164.3L729.0 167.0L729.5 170.7L730.0 167.8L730.5 173.0L731.0 166.3L731.5 166.6L732.0 174.2L732.5 167.9L733.0 173.8L733.5 170.3L734.0 173.9L734.5 176.4L735.0 173.1L735.5 174.0L736.0 171.9L736.5 180.8L737.0 175.3L737.5 175.8L738.0 179.7L738.5 179.5L739.0 178.5L739.5 183.3L740.0 183.1L740.5 180.9L741.0 182.1L741.5 188.9L742.0 185.0L742.5 182.9L743.0 184.5L743.5 186.8L744.0 191.8L744.5 180.6L745.0 186.4L745.5 182.8L746.0 185.8L746.5 182.6L747.0 181.9L747.5 181.8L748.0 182.6L748.5 185.3L749.0 191.1L749.5 180.4L750.0 181.0L750.5 182.0L751.0 188.8L751.5 187.9L752.0 186.8L752.5 182.6L753.0 179.5L753.5 174.0L754.0 177.3L754.5 176.8L755.0 172.8L755.5 170.9L756.0 167.7L756.5 172.4L757.0 169.2L757.5 171.9L758.0 165.0L758.5 163.9L759.0 169.1L759.5 163.8L760.0 156.5L760.5 158.1L761.0 155.6L761.5 157.2L762.0 149.4L762.5 157.2L763.0 155.3L763.5 150.6L764.0 148.6L764.5 146.5L765.0 143.0L765.5 146.8L766.0 137.4L766.5 148.0L767.0 134.1L767.5 137.7L768.0 131.8L768.5 131.1L769.0 131.9L769.5 125.8L770.0 132.0L770.5 129.6L771.0 130.0L771.5 129.9L772.0 123.6L772.5 125.5L773.0 125.2L773.5 130.1L774.0 125.9L774.5 123.6L775.0 128.3L775.5 126.2L776.0 131.4L776.5 134.0L777.0 133.4L777.5 128.0L778.0 134.9L778.5 129.6L779.0 132.4L779.5 138.2L780.0 136.7L780.5 143.6L781.0 141.0L781.5 140.0L782.0 144.8L782.5 142.7L783.0 148.9L783.5 138.3L784.0 147.9L784.5 147.0L785.0 151.8L785.5 152.3L786.0 163.1L786.5 160.1L787.0 159.3L787.5 164.3L788.0 153.9L788.5 168.9L789.0 158.2L789.5 167.4L790.0 175.1L790.5 165.4L791.0 167.5L791.5 163.9L792.0 166.4L792.5 175.0L793.0 175.8L793.5 174.8L794.0 178.9L794.5 177.2L795.0 176.7L795.5 179.3L796.0 177.2L796.5 173.7L797.0 181.0L797.5 183.4L798.0 186.0L798.5 184.1L799.0 180.7L799.5 178.8L800.0 181.2L800.5 182.6L801.0 181.1L801.5 179.4L802.0 182.3L802.5 172.8L803.0 181.9L803.5 184.3L804.0 173.0L804.5 177.6L805.0 172.7L805.5 170.1L806.0 173.3L806.5 171.9L807.0 168.5L807.5 173.9L808.0 169.3L808.5 161.4L809.0 171.3L809.5 166.6L810.0 170.9L810.5 163.6L811.0 165.1L811.5 168.3L812.0 172.7L812.5 176.1L813.0 173.9L813.5 188.0L814.0 177.8L814.5 181.8L815.0 191.1L815.5 192.9L816.0 194.1L816.5 193.0L817.0 194.2L817.5 201.1L818.0 194.7L818.5 198.7L819.0 203.1L819.5 207.1L820.0 212.9L820.5 215.2L821.0 220.3L821.5 225.9L822.0 230.1L822.5 236.9L825.0 268.5" stroke="#0000e6"/>
<path d="M825.0 268.5L830.7 307.6L835.6 270.0L837.0 214.0L838.0 189.7L839.0 144.9L840.0 103.9L841.0 87.3L842.0 70.7L843.0 58.3L844.0 48.1L844.5 43.8L847.8 31.5L851.0 36.6L852.0 41.0L853.0 48.6L854.0 59.4L855.0 70.0L856.0 80.3L857.0 90.5L858.0 99.9L859.0 108.5L860.0 118.2L861.0 130.1L862.0 140.0L863.0 146.7L864.0 152.4L865.0 156.9L866.0 160.0L867.0 162.1L868.0 163.8L869.0 164.8L870.0 165.4L871.0 165.9L872.0 166.1L873.0 166.2L874.0 166.3L875.0 166.4L876.0 166.5L877.0 166.5L878.0 166.6L879.0 166.7L880.0 166.7L881.0 166.9L882.0 167.0L883.0 167.3L884.0 167.7L885.0 168.2L886.0 168.9L887.0 169.6L888.0 170.4L889.0 171.2L890.0 172.0L891.0 172.9L892.0 173.9L893.0 175.0L894.0 176.2L895.0 177.3L896.0 178.5L897.0 179.8L898.0 181.1L899.0 182.3L900.0 183.2L901.0 183.8L902.0 184.3L903.0 184.8L904.0 185.1L905.0 185.2L906.0 185.0L907.0 184.6L908.0 183.9L909.0 183.1L910.0 182.3L911.0 181.2L912.0 179.7L913.0 178.0L914.0 176.5L915.0 175.1L916.0 173.6L917.0 172.4L918.0 171.5L919.0 170.9L920.0 170.4L921.0 169.9L922.0 169.5L923.0 169.2L924.0 168.9L925.0 168.8L926.0 168.8L927.0 168.9L928.0 169.1L929.0 169.3L930.0 169.5L931.0 169.7L932.0 169.8L933.0 169.9L934.0 170.0L935.0 170.1L936.0 170.2L937.0 170.3L938.0 170.4L939.0 170.4L940.0 170.4L941.0 170.3L942.0 170.1L943.0 170.0L944.0 169.8L945.0 169.5L946.0 169.3L947.0 169.1L948.0 168.9L949.0 168.7L950.0 168.5L951.0 168.4L952.0 168.2L953.0 168.1L954.0 167.9L955.0 167.8L956.0 167.6L957.0 167.5L958.0 167.4L959.0 167.2L960.0 167.1L961.0 167.0L962.0 166.9L963.0 166.9L964.0 166.8L965.0 166.7L966.0 166.7L967.0 166.7L968.0 166.7L969.0 166.6L970.0 166.6L971.0 166.6L972.0 166.6L973.0 166.6L974.0 166.5L975.0 166.5L976.0 166.5L977.0 166.5L978.0 166.5L979.0 166.5L980.0 166.5L981.0 166.5L982.0 166.5L983.0 166.5L984.0 166.5L985.0 166.5L986.0 166.5L987.0 166.5L988.0 166.5L989.0 166.5L990.0 166.5L991.0 166.5L992.0 166.5L993.0 166.5L994.0 166.5L995.0 166.5L996.0 166.5L997.0 166.5L998.0 166.5L999.0 166.5L1000.0 166.5L1001.0 166.5L1002.0 166.5L1003.0 166.5L1004.0 166.5L1005.0 166.5L1006.0 166.5L1007.0 166.5L1008.0 166.5L1009.0 166.5L1010.0 166.5L1011.0 166.5L1012.0 166.5L1013.0 166.5L1014.0 166.5L1015.0 166.5L1016.0 166.5L1017.0 166.5L1018.0 166.5L1019.0 166.5L1020.0 166.5L1021.0 166.5L1022.0 166.5L1023.0 166.5L1024.0 166.5L1025.0 166.5L1026.0 166.5L1027.0 166.5L1028.0 166.5L1029.0 166.5L1030.0 166.5L1031.0 166.5L1032.0 166.5L1033.0 166.5L1034.0 166.5L1035.0 166.5L1036.0 166.5L1037.0 166.5L1038.0 166.5L1039.0 166.5L1040.0 166.5L1041.0 166.5L1042.0 166.5L1043.0 166.5L1044.0 166.5L1045.0 166.5L1046.0 166.5L1047.0 166.5L1048.0 166.5L1049.0 166.5L1050.0 166.5L1051.0 166.5L1052.0 166.5L1053.0 166.5L1054.0 166.5L1055.0 166.5L1056.0 166.5L1057.0 166.5L1058.0 166.5L1059.0 166.5L1060.0 166.5L1061.0 166.5L1062.0 166.5L1063.0 166.5L1064.0 166.5L1065.0 166.5L1066.0 166.5L1067.0 166.5L1068.0 166.5L1069.0 166.5L1070.0 166.5L1071.0 166.5L1072.0 166.5L1073.0 166.5L1074.0 166.5L1075.0 166.5L1076.0 166.5L1077.0 166.5L1078.0 166.5L1079.0 166.5L1080.0 166.5L1081.0 166.5L1082.0 166.5L1083.0 166.5L1084.0 166.5L1085.0 166.5L1086.0 166.5L1087.0 166.5L1088.0 166.5L1089.0 166.5L1090.0 166.5L1091.0 166.5L1092.0 166.5L1093.0 166.5L1094.0 166.5L1095.0 166.5L1096.0 166.5L1097.0 166.5L1098.0 166.5L1099.0 166.5L1100.0 166.5L1101.0 166.5L1102.0 166.5L1103.0 166.5L1104.0 166.5L1104.8 166.5" stroke="#0000e6" stroke-miterlimit="20"/>
<path d="M659.5 330.9L660.0 330.3L660.5 331.1L661.0 331.9L661.5 329.3L662.0 330.0L662.5 332.1L663.0 332.0L663.5 332.0L664.0 330.5L664.5 331.3L665.0 330.5L665.5 328.5L666.0 329.3L666.5 330.5L667.0 329.8L667.5 328.8L668.0 328.7L668.5 329.9L669.0 329.6L669.5 328.8L670.0 330.7L670.5 328.8L671.0 328.7L671.5 329.1L672.0 328.9L672.5 328.8L673.0 327.0L673.5 330.9L674.0 329.3L674.5 329.0L675.0 328.0L675.5 328.4L676.0 328.9L676.5 327.8L677.0 329.1L677.5 328.9L678.0 327.9L678.5 327.5L679.0 328.8L679.5 330.1L680.0 328.2L680.5 328.8L681.0 327.8L681.5 327.1L682.0 328.8L682.5 327.5L683.0 329.6L683.5 327.1L684.0 326.3L684.5 327.8L685.0 328.2L685.5 328.2L686.0 327.5L686.5 326.3L687.0 328.3L687.5 326.4L688.0 329.2L688.5 326.7L689.0 327.0L689.5 326.9L690.0 328.3L690.5 328.7L691.0 327.4L691.5 327.4L692.0 326.0L692.5 327.7L693.0 324.8L693.5 327.8L694.0 327.1L694.5 325.9L695.0 327.4L695.5 327.3L696.0 328.2L696.5 328.0L697.0 326.7L697.5 326.9L698.0 325.3L698.5 327.1L699.0 325.3L699.5 325.8L700.0 325.1L700.5 325.8L701.0 326.7L701.5 325.5L702.0 326.2L702.5 325.1L703.0 326.5L703.5 326.9L704.0 326.1L704.5 326.0L705.0 325.2L705.5 326.6L706.0 327.0L706.5 325.7L707.0 325.9L707.5 325.5L708.0 324.8L708.5 325.7L709.0 324.5L709.5 326.8L710.0 327.3L710.5 326.5L711.0 326.0L711.5 325.6L712.0 325.8L712.5 324.6L713.0 325.9L713.5 325.7L714.0 326.2L714.5 327.1L715.0 325.8L715.5 327.0L716.0 326.3L716.5 325.0L717.0 326.1L717.5 325.6L718.0 326.0L718.5 326.0L719.0 325.9L719.5 325.4L720.0 326.0L720.5 325.3L721.0 324.9L721.5 325.5L722.0 324.2L722.5 325.9L723.0 326.1L723.5 325.3L724.0 326.5L724.5 326.1L725.0 325.6L725.5 325.9L726.0 326.1L726.5 325.0L727.0 325.7L727.5 325.9L728.0 325.7L728.5 324.9L729.0 326.3L729.5 323.5L730.0 324.9L730.5 325.2L731.0 326.4L731.5 323.9L732.0 324.2L732.5 324.1L733.0 324.8L733.5 324.4L734.0 324.1L734.5 325.7L735.0 325.4L735.5 324.9L736.0 324.3L736.5 324.6L737.0 324.7L737.5 326.6L738.0 323.9L738.5 324.4L739.0 324.4L739.5 324.6L740.0 325.4L740.5 323.6L741.0 323.9L741.5 325.6L742.0 324.9L742.5 325.9L743.0 324.1L743.5 323.5L744.0 324.2L744.5 324.1L745.0 325.1L745.5 323.9L746.0 324.6L746.5 325.1L747.0 324.6L747.5 324.3L748.0 324.3L748.5 324.7L749.0 325.0L749.5 323.7L750.0 323.4L750.5 325.6L751.0 323.3L751.5 324.1L752.0 323.7L752.5 325.3L753.0 324.5L753.5 325.3L754.0 325.2L754.5 323.7L755.0 324.4L755.5 323.0L756.0 323.8L756.5 324.7L757.0 324.5L757.5 324.4L758.0 324.1L758.5 323.7L759.0 324.5L759.5 324.1L760.0 324.0L760.5 324.7L761.0 323.6L761.5 325.2L762.0 323.8L762.5 325.0L763.0 324.0L763.5 323.5L764.0 323.7L764.5 324.3L765.0 324.1L765.5 324.2L766.0 323.9L766.5 323.5L767.0 323.3L767.5 323.2L768.0 323.4L768.5 322.3L769.0 323.7L769.5 323.6L770.0 323.4L770.5 322.9L771.0 323.5L771.5 323.9L772.0 322.8L772.5 322.8L773.0 323.2L773.5 323.5L774.0 322.6L774.5 323.8L775.0 322.1L775.5 324.4L776.0 322.5L776.5 322.7L777.0 322.9L777.5 322.5L778.0 323.2L778.5 322.9L779.0 324.2L779.5 323.3L780.0 323.9L780.5 323.4L781.0 324.1L781.5 323.6L782.0 322.6L782.5 323.2L783.0 323.7L783.5 323.8L784.0 322.4L784.5 323.1L785.0 322.7L785.5 322.8L786.0 323.8L786.5 323.9L787.0 322.6L787.5 323.2L788.0 324.6L788.5 324.8L789.0 324.6L789.5 323.6L790.0 324.4L790.5 325.0L791.0 324.5L791.5 324.4L792.0 324.3L792.5 324.9L793.0 325.3L793.5 325.9L794.0 325.0L794.5 325.1L795.0 324.4L795.5 325.9L796.0 325.0L796.5 326.2L797.0 325.1L797.5 325.6L798.0 326.0L798.5 325.9L799.0 324.7L799.5 325.8L800.0 326.1L800.5 327.3L801.0 326.8L801.5 327.0L802.0 326.7L802.5 327.1L803.0 326.6L803.5 326.1L804.0 326.5L804.5 327.0L805.0 326.8L805.5 327.1L806.0 327.1L806.5 327.8L807.0 326.6L807.5 327.1L808.0 327.7L808.5 327.7L809.0 328.4L809.5 328.2L810.0 328.1L810.5 328.0L811.0 328.3L811.5 328.3L812.0 328.1L812.5 328.4L813.0 328.7L813.5 328.7L814.0 328.7L814.5 329.0L815.0 328.7L815.5 328.8L816.0 329.0L816.5 329.0L817.0 328.8L817.5 328.9L818.0 328.9L818.5 328.9L819.0 328.9L819.5 328.9L820.0 328.9L820.5 328.9L821.0 328.9L821.5 328.9L822.0 328.9L822.5 328.9L825.0 328.9L830.7 328.9L835.6 328.9L837.0 328.9L838.0 328.9L839.0 328.9L840.0 328.9L841.0 328.9L842.0 328.9L843.0 328.9L844.0 328.9L844.5 328.9L847.8 328.9L851.0 328.9L852.0 328.9L853.0 328.9L854.0 328.9L855.0 328.9L856.0 328.9L857.0 328.9L858.0 328.9L859.0 328.9L860.0 328.9L861.0 328.9L862.0 328.9L863.0 328.9L864.0 328.9L865.0 328.9L866.0 328.9L867.0 328.9L868.0 328.9L869.0 328.9L870.0 328.9L871.0 328.9L872.0 328.9L873.0 328.9L874.0 328.9L875.0 328.9L876.0 328.9L877.0 328.9L878.0 328.9L879.0 328.9L880.0 328.9L881.0 328.9L882.0 328.9L883.0 328.9L884.0 328.9L885.0 328.9L886.0 328.9L887.0 328.9L888.0 328.9L889.0 328.9L890.0 328.9L891.0 328.9L892.0 328.9L893.0 328.9L894.0 328.9L895.0 328.9L896.0 328.9L897.0 328.9L898.0 328.9L899.0 328.9L900.0 328.9L901.0 328.9L902.0 328.9L903.0 328.9L904.0 328.9L905.0 328.9L906.0 328.9L907.0 328.9L908.0 328.9L909.0 328.9L910.0 328.9L911.0 328.9L912.0 328.9L913.0 328.9L914.0 328.9L915.0 328.9L916.0 328.9L917.0 328.9L918.0 328.9L919.0 328.9L920.0 328.9L921.0 328.9L922.0 328.9L923.0 328.9L924.0 328.9L925.0 328.9L926.0 328.9L927.0 328.9L928.0 328.9L929.0 328.9L930.0 328.9L931.0 328.9L932.0 328.9L933.0 328.9L934.0 328.9L935.0 328.9L936.0 328.9L937.0 328.9L938.0 328.9L939.0 328.9L940.0 328.9L941.0 328.9L942.0 328.9L943.0 328.9L944.0 328.9L945.0 328.9L946.0 328.9L947.0 328.9L948.0 328.9L949.0 328.9L950.0 328.9L951.0 328.9L952.0 328.9L953.0 328.9L954.0 328.9L955.0 328.9L956.0 328.9L957.0 328.9L958.0 328.9L959.0 328.9L960.0 328.9L961.0 328.9L962.0 328.9L963.0 328.9L964.0 328.9L965.0 328.9L966.0 328.9L967.0 328.9L968.0 328.9L969.0 328.9L970.0 328.9L971.0 328.9L972.0 328.9L973.0 328.9L974.0 328.9L975.0 328.9L976.0 328.9L977.0 328.9L978.0 328.9L979.0 328.9L980.0 328.9L981.0 328.9L982.0 328.9L983.0 328.9L984.0 328.9L985.0 328.9L986.0 328.9L987.0 328.9L988.0 328.9L989.0 328.9L990.0 328.9L991.0 328.9L992.0 328.9L993.0 328.9L994.0 328.9L995.0 328.9L996.0 328.9L997.0 328.9L998.0 328.9L999.0 328.9L1000.0 328.9L1001.0 328.9L1002.0 328.9L1003.0 328.9L1004.0 328.9L1005.0 328.9L1006.0 328.9L1007.0 328.9L1008.0 328.9L1009.0 328.9L1010.0 328.9L1011.0 328.9L1012.0 328.9L1013.0 328.9L1014.0 328.9L1015.0 328.9L1016.0 328.9L1017.0 328.9L1018.0 328.9L1019.0 328.9L1020.0 328.9L1021.0 328.9L1022.0 328.9L1023.0 328.9L1024.0 328.9L1025.0 328.9L1026.0 328.9L1027.0 328.9L1028.0 328.9L1029.0 328.9L1030.0 328.9L1031.0 328.9L1032.0 328.9L1033.0 328.9L1034.0 328.9L1035.0 328.9L1036.0 328.9L1037.0 328.9L1038.0 328.9L1039.0 328.9L1040.0 328.9L1041.0 328.9L1042.0 328.9L1043.0 328.9L1044.0 328.9L1045.0 328.9L1046.0 328.9L1047.0 328.9L1048.0 328.9L1049.0 328.9L1050.0 328.9L1051.0 328.9L1052.0 328.9L1053.0 328.9L1054.0 328.9L1055.0 328.9L1056.0 328.9L1057.0 328.9L1058.0 328.9L1059.0 328.9L1060.0 328.9L1061.0 328.9L1062.0 328.9L1063.0 328.9L1064.0 328.9L1065.0 328.9L1066.0 328.9L1067.0 328.9L1068.0 328.9L1069.0 328.9L1070.0 328.9L1071.0 328.9L1072.0 328.9L1073.0 328.9L1074.0 328.9L1075.0 328.9L1076.0 328.9L1077.0 328.9L1078.0 328.9L1079.0 328.9L1080.0 328.9L1081.0 328.9L1082.0 328.9L1083.0 328.9L1084.0 328.9L1085.0 328.9L1086.0 328.9L1087.0 328.9L1088.0 328.9L1089.0 328.9L1090.0 328.9L1091.0 328.9L1092.0 328.9L1093.0 328.9L1094.0 328.9L1095.0 328.9L1096.0 328.9L1097.0 328.9L1098.0 328.9L1099.0 328.9L1100.0 328.9L1101.0 328.9L1102.0 328.9L1103.0 328.9L1104.0 328.9L1104.8 328.9" stroke="#0000e6" stroke-miterlimit="3"/>
<path d="M659.5 497.2L660.0 488.7L660.5 490.3L661.0 495.2L661.5 494.9L662.0 489.8L662.5 489.9L663.0 489.8L663.5 489.0L664.0 494.2L664.5 490.7L665.0 489.3L665.5 489.2L666.0 494.8L666.5 482.2L667.0 490.4L667.5 492.7L668.0 489.5L668.5 488.5L669.0 493.7L669.5 492.8L670.0 498.8L670.5 489.9L671.0 493.6L671.5 488.6L672.0 496.4L672.5 495.7L673.0 494.5L673.5 496.0L674.0 494.9L674.5 494.1L675.0 492.5L675.5 495.8L676.0 494.6L676.5 491.6L677.0 492.6L677.5 493.4L678.0 498.1L678.5 493.1L679.0 492.5L679.5 488.6L680.0 495.7L680.5 493.9L681.0 493.7L681.5 493.7L682.0 495.0L682.5 487.5L683.0 490.0L683.5 492.2L684.0 495.8L684.5 494.6L685.0 496.2L685.5 494.3L686.0 495.2L686.5 490.7L687.0 491.3L687.5 492.3L688.0 492.1L688.5 495.3L689.0 493.1L689.5 493.1L690.0 492.8L690.5 497.8L691.0 491.3L691.5 495.0L692.0 490.9L692.5 493.8L693.0 493.8L693.5 491.7L694.0 488.9L694.5 493.4L695.0 492.8L695.5 491.1L696.0 491.3L696.5 490.6L697.0 499.4L697.5 489.8L698.0 485.9L698.5 485.5L699.0 493.2L699.5 484.6L700.0 492.4L700.5 488.5L701.0 490.7L701.5 489.7L702.0 492.4L702.5 487.4L703.0 488.4L703.5 485.4L704.0 480.7L704.5 491.9L705.0 482.5L705.5 488.7L706.0 489.9L706.5 487.5L707.0 482.8L707.5 491.3L708.0 481.3L708.5 488.5L709.0 489.1L709.5 480.2L710.0 486.9L710.5 481.5L711.0 486.1L711.5 477.3L712.0 490.4L712.5 486.5L713.0 484.1L713.5 482.6L714.0 488.9L714.5 485.4L715.0 485.1L715.5 482.3L716.0 482.6L716.5 483.4L717.0 481.0L717.5 484.9L718.0 490.8L718.5 486.8L719.0 488.2L719.5 487.5L720.0 494.5L720.5 485.0L721.0 480.8L721.5 477.2L722.0 486.4L722.5 489.7L723.0 492.9L723.5 484.4L724.0 488.1L724.5 496.0L725.0 485.5L725.5 488.3L726.0 491.1L726.5 489.0L727.0 493.2L727.5 487.0L728.0 491.9L728.5 492.8L729.0 499.1L729.5 498.1L730.0 498.9L730.5 493.7L731.0 502.8L731.5 498.3L732.0 504.5L732.5 494.9L733.0 497.3L733.5 499.9L734.0 508.2L734.5 500.1L735.0 504.5L735.5 503.7L736.0 509.4L736.5 506.3L737.0 513.6L737.5 505.0L738.0 517.0L738.5 510.0L739.0 506.3L739.5 514.1L740.0 511.9L740.5 509.5L741.0 518.2L741.5 512.0L742.0 509.8L742.5 515.5L743.0 517.2L743.5 517.0L744.0 509.0L744.5 520.2L745.0 515.2L745.5 516.5L746.0 510.2L746.5 511.1L747.0 512.0L747.5 514.1L748.0 522.1L748.5 514.7L749.0 514.3L749.5 518.8L750.0 519.5L750.5 516.7L751.0 511.3L751.5 506.1L752.0 502.9L752.5 509.0L753.0 506.6L753.5 511.1L754.0 514.0L754.5 503.8L755.0 503.4L755.5 503.2L756.0 494.9L756.5 501.0L757.0 503.4L757.5 509.1L758.0 492.4L758.5 499.8L759.0 501.4L759.5 489.9L760.0 492.1L760.5 496.8L761.0 487.8L761.5 487.5L762.0 488.4L762.5 490.6L763.0 485.6L763.5 480.3L764.0 482.6L764.5 474.4L765.0 470.9L765.5 472.8L766.0 471.4L766.5 471.0L767.0 469.9L767.5 465.8L768.0 459.3L768.5 458.3L769.0 462.3L769.5 465.2L770.0 457.7L770.5 457.9L771.0 461.4L771.5 453.5L772.0 460.3L772.5 455.4L773.0 455.1L773.5 459.5L774.0 455.1L774.5 461.4L775.0 454.2L775.5 455.6L776.0 457.6L776.5 462.8L777.0 457.4L777.5 462.8L778.0 464.3L778.5 467.8L779.0 462.7L779.5 467.3L780.0 470.2L780.5 475.2L781.0 469.0L781.5 471.9L782.0 472.3L782.5 461.1L783.0 475.4L783.5 476.3L784.0 474.5L784.5 477.5L785.0 482.0L785.5 485.0L786.0 486.2L786.5 486.4L787.0 489.9L787.5 494.5L788.0 492.2L788.5 498.7L789.0 501.1L789.5 500.6L790.0 496.3L790.5 498.5L791.0 490.7L791.5 500.4L792.0 500.8L792.5 500.0L793.0 495.7L793.5 508.2L794.0 510.2L794.5 506.6L795.0 511.4L795.5 507.8L796.0 502.4L796.5 509.7L797.0 508.4L797.5 508.9L798.0 509.4L798.5 505.7L799.0 503.7L799.5 513.1L800.0 509.6L800.5 510.5L801.0 504.7L801.5 499.2L802.0 502.9L802.5 512.0L803.0 508.5L803.5 498.5L804.0 501.5L804.5 498.1L805.0 500.8L805.5 505.0L806.0 495.5L806.5 497.6L807.0 494.8L807.5 493.0L808.0 490.5L808.5 490.9L809.0 494.2L809.5 493.4L810.0 494.0L810.5 489.8L811.0 491.2L811.5 495.5L812.0 496.6L812.5 496.6L813.0 499.8L813.5 508.0L814.0 505.1L814.5 509.6L815.0 513.1L815.5 512.4L816.0 519.9L816.5 517.8L817.0 521.0L817.5 519.7L818.0 524.4L818.5 525.0L819.0 529.5L819.5 530.4L820.0 534.5L820.5 539.9L821.0 546.2L821.5 547.6L822.0 555.9L822.5 561.4L825.0 596.5" stroke="#0000e6"/>
<path d="M825.0 596.5L830.7 634.2L835.6 595.0L837.0 538.9L838.0 514.6L839.0 469.8L840.0 428.8L841.0 412.1L842.0 395.5L843.0 383.0L844.0 372.5L844.5 368.0L847.8 354.9L851.0 360.8L852.0 365.5L853.0 373.4L854.0 384.2L855.0 394.9L856.0 405.2L857.0 415.4L858.0 424.8L859.0 433.4L860.0 443.1L861.0 455.0L862.0 464.9L863.0 471.6L864.0 477.3L865.0 481.8L866.0 484.9L867.0 487.0L868.0 488.7L869.0 489.7L870.0 491.4L871.0 491.4L872.0 491.4L873.0 491.4L874.0 491.4L875.0 491.4L876.0 491.4L877.0 491.4L878.0 491.4L879.0 491.4L880.0 491.4L881.0 491.4L882.0 491.4L883.0 491.4L884.0 491.4L885.0 491.4L886.0 491.4L887.0 491.4L888.0 491.4L889.0 491.4L890.0 491.4L891.0 491.4L892.0 491.4L893.0 491.4L894.0 491.4L895.0 491.4L896.0 491.4L897.0 491.4L898.0 491.4L899.0 491.4L900.0 491.4L901.0 491.4L902.0 491.4L903.0 491.4L904.0 491.4L905.0 491.4L906.0 491.4L907.0 491.4L908.0 491.4L909.0 491.4L910.0 491.4L911.0 491.4L912.0 491.4L913.0 491.4L914.0 491.4L915.0 491.4L916.0 491.4L917.0 491.4L918.0 491.4L919.0 491.4L920.0 491.4L921.0 491.4L922.0 491.4L923.0 491.4L924.0 491.4L925.0 491.4L926.0 491.4L927.0 491.4L928.0 491.4L929.0 491.4L930.0 491.4L931.0 491.4L932.0 491.4L933.0 491.4L934.0 491.4L935.0 491.4L936.0 491.4L937.0 491.4L938.0 491.4L939.0 491.4L940.0 491.4L941.0 491.4L942.0 491.4L943.0 491.4L944.0 491.4L945.0 491.4L946.0 491.4L947.0 491.4L948.0 491.4L949.0 491.4L950.0 491.4L951.0 491.4L952.0 491.4L953.0 491.4L954.0 491.4L955.0 491.4L956.0 491.4L957.0 491.4L958.0 491.4L959.0 491.4L960.0 491.4L961.0 491.4L962.0 491.4L963.0 491.4L964.0 491.4L965.0 491.4L966.0 491.4L967.0 491.4L968.0 491.4L969.0 491.4L970.0 491.4L971.0 491.4L972.0 491.4L973.0 491.4L974.0 491.4L975.0 491.4L976.0 491.4L977.0 491.4L978.0 491.4L979.0 491.4L980.0 491.4L981.0 491.4L982.0 491.4L983.0 491.4L984.0 491.4L985.0 491.4L986.0 491.4L987.0 491.4L988.0 491.4L989.0 491.4L990.0 491.4L991.0 491.4L992.0 491.4L993.0 491.4L994.0 491.4L995.0 491.4L996.0 491.4L997.0 491.4L998.0 491.4L999.0 491.4L1000.0 491.4L1001.0 491.4L1002.0 491.4L1003.0 491.4L1004.0 491.4L1005.0 491.4L1006.0 491.4L1007.0 491.4L1008.0 491.4L1009.0 491.4L1010.0 491.4L1011.0 491.4L1012.0 491.4L1013.0 491.4L1014.0 491.4L1015.0 491.4L1016.0 491.4L1017.0 491.4L1018.0 491.4L1019.0 491.4L1020.0 491.4L1021.0 491.4L1022.0 491.4L1023.0 491.4L1024.0 491.4L1025.0 491.4L1026.0 491.4L1027.0 491.4L1028.0 491.4L1029.0 491.4L1030.0 491.4L1031.0 491.4L1032.0 491.4L1033.0 491.4L1034.0 491.4L1035.0 491.4L1036.0 491.4L1037.0 491.4L1038.0 491.4L1039.0 491.4L1040.0 491.4L1041.0 491.4L1042.0 491.4L1043.0 491.4L1044.0 491.4L1045.0 491.4L1046.0 491.4L1047.0 491.4L1048.0 491.4L1049.0 491.4L1050.0 491.4L1051.0 491.4L1052.0 491.4L1053.0 491.4L1054.0 491.4L1055.0 491.4L1056.0 491.4L1057.0 491.4L1058.0 491.4L1059.0 491.4L1060.0 491.4L1061.0 491.4L1062.0 491.4L1063.0 491.4L1064.0 491.4L1065.0 491.4L1066.0 491.4L1067.0 491.4L1068.0 491.4L1069.0 491.4L1070.0 491.4L1071.0 491.4L1072.0 491.4L1073.0 491.4L1074.0 491.4L1075.0 491.4L1076.0 491.4L1077.0 491.4L1078.0 491.4L1079.0 491.4L1080.0 491.4L1081.0 491.4L1082.0 491.4L1083.0 491.4L1084.0 491.4L1085.0 491.4L1086.0 491.4L1087.0 491.4L1088.0 491.4L1089.0 491.4L1090.0 491.4L1091.0 491.4L1092.0 491.4L1093.0 491.4L1094.0 491.4L1095.0 491.4L1096.0 491.4L1097.0 491.4L1098.0 491.4L1099.0 491.4L1100.0 491.4L1101.0 491.4L1102.0 491.4L1103.0 491.4L1104.0 491.4L1104.8 491.4" stroke="#0000e6" stroke-miterlimit="20"/>
</g>
<g fill="none" stroke="#000" stroke-width="3.7" stroke-linecap="butt" stroke-linejoin="miter">
<path d="M622.6 4.0 H177.0 V653.8 H622.6" stroke-linejoin="round"/>
<path d="M659.5 4.0 H1104.8 V653.8 H659.5" stroke-linejoin="round"/>
<path d="M659.5 653.8 v-18 M659.5 4.0 v18 M232.7 653.8 v-9 M232.7 4.0 v9 M715.2 653.8 v-9 M715.2 4.0 v9 M288.4 653.8 v-18 M288.4 4.0 v18 M770.8 653.8 v-18 M770.8 4.0 v18 M344.1 653.8 v-9 M344.1 4.0 v9 M826.5 653.8 v-9 M826.5 4.0 v9 M399.8 653.8 v-18 M399.8 4.0 v18 M882.1 653.8 v-18 M882.1 4.0 v18 M455.5 653.8 v-9 M455.5 4.0 v9 M937.8 653.8 v-9 M937.8 4.0 v9 M511.2 653.8 v-18 M511.2 4.0 v18 M993.5 653.8 v-18 M993.5 4.0 v18 M566.9 653.8 v-9 M566.9 4.0 v9 M1049.1 653.8 v-9 M1049.1 4.0 v9 M622.6 653.8 v-18 M622.6 4.0 v18 M177.0 85.2 h9 M1104.8 85.2 h-9 M177.0 166.4 h18 M1104.8 166.4 h-18 M177.0 247.7 h9 M1104.8 247.7 h-9 M177.0 328.9 h18 M1104.8 328.9 h-18 M177.0 410.1 h9 M1104.8 410.1 h-9 M177.0 491.3 h18 M1104.8 491.3 h-18 M177.0 572.6 h9 M1104.8 572.6 h-9"/>
</g>
<g font-size="39px">
<text x="177.3" y="691" text-anchor="middle">0</text>
<text x="288.7" y="691" text-anchor="middle">0.5</text>
<text x="400.1" y="691" text-anchor="middle">1</text>
<text x="511.5" y="691" text-anchor="middle">1.5</text>
<text x="622.9" y="691" text-anchor="middle">2</text>
<text x="659.8" y="691" text-anchor="middle">9</text>
<text x="771.1" y="691" text-anchor="middle">9.5</text>
<text x="882.4" y="691" text-anchor="middle">10</text>
<text x="993.8" y="691" text-anchor="middle">10.5</text>
<text x="1105.1" y="691" text-anchor="middle">11</text>
<text x="169.5" y="180.4" text-anchor="end">0</text>
<text x="172.0" y="342.9" text-anchor="end">-0.01</text>
<text x="169.5" y="505.4" text-anchor="end">-0.02</text>
<text x="169.5" y="667.8" text-anchor="end">-0.03</text>
</g>
<g font-size="39px">
<text x="1007.5" y="148.3">Total</text>
<text x="1013" y="310.5">Ions</text>
<text x="998.3" y="473.3">Water</text>
</g>
<path d="M485 45.8 H522.4" stroke="#d80000" stroke-width="4.4"/>
<path d="M485 89.6 H522.4" stroke="#0000e6" stroke-width="4.4"/>
<g font-size="39px">
<text x="540.5" y="56.7">Finite field, 3D</text>
<text x="540" y="100.7">Constant <tspan font-family="Liberation Serif,serif">&#916;&#936;</tspan>, 2D</text>
</g>
<text x="0" y="0" font-size="52px" transform="translate(58.8 582.3) rotate(-90)">Charge density (e &#197;<tspan font-size="36px" dy="-31">-3</tspan><tspan dy="31">)</tspan></text>
<text x="569" y="741" font-size="52px">z (nm)</text>
</svg>
</body></html>
